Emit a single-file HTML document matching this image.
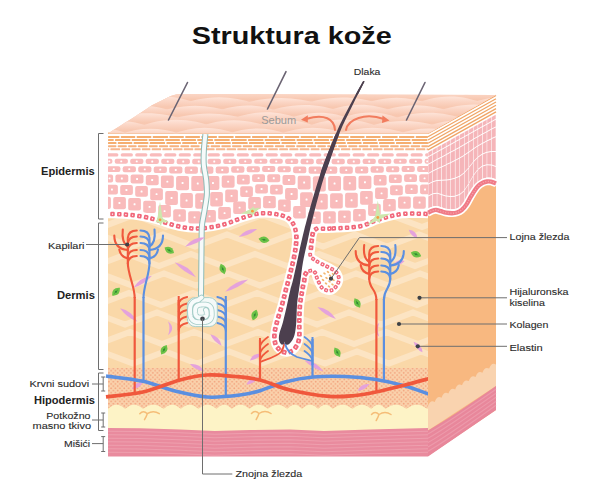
<!DOCTYPE html>
<html><head><meta charset="utf-8"><title>Struktura kože</title>
<style>html,body{margin:0;padding:0;background:#fff;}body{width:600px;height:502px;overflow:hidden;font-family:"Liberation Sans",sans-serif;}svg{display:block;}</style>
</head><body>
<svg width="600" height="502" viewBox="0 0 600 502"><defs><clipPath id="frontclip"><rect x="108" y="133" width="320" height="323"/></clipPath><pattern id="dots" width="4.4" height="4.4" patternUnits="userSpaceOnUse"><rect width="4.4" height="4.4" fill="#fad2ac"/><circle cx="1.1" cy="1.1" r="0.9" fill="#f3a47f"/><circle cx="3.3" cy="3.3" r="0.9" fill="#f3a47f"/></pattern><linearGradient id="dome" x1="0" y1="0" x2="0" y2="1"><stop offset="0" stop-color="#fee4d9"/><stop offset="0.45" stop-color="#fbd5c4"/><stop offset="1" stop-color="#f7c6ae"/></linearGradient><clipPath id="topclip"><path d="M108,133.5 L428,133.5 L496,95 L178,94 C175,95 173,95 170.7,96 C164,99.5 158,102 152,105.3 C145,110 138,114.5 130.7,119.3 C123,124 115,129 108,133.5 Z"/></clipPath></defs><rect x="108" y="133" width="320" height="323" fill="#fad8a8"/>
<g clip-path="url(#frontclip)"><polyline points="70.0,215.0 102.0,227.0 134.0,215.0 166.0,227.0 198.0,215.0 230.0,227.0 262.0,215.0 294.0,227.0 326.0,215.0 358.0,227.0 390.0,215.0 422.0,227.0 454.0,215.0" fill="none" stroke="#fce4c3" stroke-width="6" stroke-linejoin="miter"/>
<polyline points="35.0,234.5 67.0,246.5 99.0,234.5 131.0,246.5 163.0,234.5 195.0,246.5 227.0,234.5 259.0,246.5 291.0,234.5 323.0,246.5 355.0,234.5 387.0,246.5 419.0,234.5 451.0,246.5" fill="none" stroke="#fce4c3" stroke-width="6" stroke-linejoin="miter"/>
<polyline points="63.0,254.0 95.0,266.0 127.0,254.0 159.0,266.0 191.0,254.0 223.0,266.0 255.0,254.0 287.0,266.0 319.0,254.0 351.0,266.0 383.0,254.0 415.0,266.0 447.0,254.0" fill="none" stroke="#fce4c3" stroke-width="6" stroke-linejoin="miter"/>
<polyline points="36.0,273.5 68.0,285.5 100.0,273.5 132.0,285.5 164.0,273.5 196.0,285.5 228.0,273.5 260.0,285.5 292.0,273.5 324.0,285.5 356.0,273.5 388.0,285.5 420.0,273.5 452.0,285.5" fill="none" stroke="#fce4c3" stroke-width="6" stroke-linejoin="miter"/>
<polyline points="65.0,293.0 97.0,305.0 129.0,293.0 161.0,305.0 193.0,293.0 225.0,305.0 257.0,293.0 289.0,305.0 321.0,293.0 353.0,305.0 385.0,293.0 417.0,305.0 449.0,293.0" fill="none" stroke="#fce4c3" stroke-width="6" stroke-linejoin="miter"/>
<polyline points="29.0,312.5 61.0,324.5 93.0,312.5 125.0,324.5 157.0,312.5 189.0,324.5 221.0,312.5 253.0,324.5 285.0,312.5 317.0,324.5 349.0,312.5 381.0,324.5 413.0,312.5 445.0,324.5" fill="none" stroke="#fce4c3" stroke-width="6" stroke-linejoin="miter"/>
<polyline points="66.0,332.0 98.0,344.0 130.0,332.0 162.0,344.0 194.0,332.0 226.0,344.0 258.0,332.0 290.0,344.0 322.0,332.0 354.0,344.0 386.0,332.0 418.0,344.0 450.0,332.0" fill="none" stroke="#fce4c3" stroke-width="6" stroke-linejoin="miter"/>
<polyline points="37.0,351.5 69.0,363.5 101.0,351.5 133.0,363.5 165.0,351.5 197.0,363.5 229.0,351.5 261.0,363.5 293.0,351.5 325.0,363.5 357.0,351.5 389.0,363.5 421.0,351.5 453.0,363.5" fill="none" stroke="#fce4c3" stroke-width="6" stroke-linejoin="miter"/>
<polyline points="64.0,371.0 96.0,383.0 128.0,371.0 160.0,383.0 192.0,371.0 224.0,383.0 256.0,371.0 288.0,383.0 320.0,371.0 352.0,383.0 384.0,371.0 416.0,383.0 448.0,371.0" fill="none" stroke="#fce4c3" stroke-width="6" stroke-linejoin="miter"/></g>
<rect x="108" y="368" width="320" height="40" fill="url(#dots)"/>
<path d="M108,409 Q116.6,400.5 125.2,409.0 Q134.1,400.5 143.1,409.0 Q153.3,400.5 163.6,409.0 Q172.2,400.5 180.8,409.0 Q189.6,400.5 198.4,409.0 Q207.4,400.5 216.5,409.0 Q224.1,400.5 231.8,409.0 Q240.6,400.5 249.4,409.0 Q258.6,400.5 267.8,409.0 Q277.5,400.5 287.3,409.0 Q294.6,400.5 302.0,409.0 Q310.0,400.5 318.1,409.0 Q325.4,400.5 332.7,409.0 Q342.6,400.5 352.4,409.0 Q361.8,400.5 371.3,409.0 Q378.4,400.5 385.5,409.0 Q396.0,400.5 406.4,409.0 Q416.8,400.5 427.2,409.0 Q436.5,400.5 428.0,409.0 L428,432 L108,432 Z" fill="#fdf3c6"/>
<path d="M108,428 L140,428.3 L180,429.5 L214.7,431 L250,430 L290,429.5 L324,431 L370,429.5 L428,428 L428,456.5 L108,456.5 Z" fill="#e98b9e"/>
<polyline points="108.0,431.2 140.0,431.5 180.0,432.7 214.7,434.2 250.0,433.2 290.0,432.7 324.0,434.2 370.0,432.7 428.0,431.2" stroke="#ee9fae" stroke-width="1.1" fill="none"/><polyline points="108.0,434.7 140.0,435.0 180.0,436.2 214.7,437.7 250.0,436.7 290.0,436.2 324.0,437.7 370.0,436.2 428.0,434.7" stroke="#ee9fae" stroke-width="1.1" fill="none"/><polyline points="108.0,438.2 140.0,438.5 180.0,439.7 214.7,441.2 250.0,440.2 290.0,439.7 324.0,441.2 370.0,439.7 428.0,438.2" stroke="#ee9fae" stroke-width="1.1" fill="none"/><polyline points="108.0,441.7 140.0,442.0 180.0,443.2 214.7,444.7 250.0,443.7 290.0,443.2 324.0,444.7 370.0,443.2 428.0,441.7" stroke="#ee9fae" stroke-width="1.1" fill="none"/><polyline points="108.0,445.2 140.0,445.5 180.0,446.7 214.7,448.2 250.0,447.2 290.0,446.7 324.0,448.2 370.0,446.7 428.0,445.2" stroke="#ee9fae" stroke-width="1.1" fill="none"/><polyline points="108.0,448.7 140.0,449.0 180.0,450.2 214.7,451.7 250.0,450.7 290.0,450.2 324.0,451.7 370.0,450.2 428.0,448.7" stroke="#ee9fae" stroke-width="1.1" fill="none"/><polyline points="108.0,452.2 140.0,452.5 180.0,453.7 214.7,455.2 250.0,454.2 290.0,453.7 324.0,455.2 370.0,453.7 428.0,452.2" stroke="#ee9fae" stroke-width="1.1" fill="none"/>
<path d="M139.8,413.7 Q143.3,409.7 147.3,413.7 Q153.3,409.7 159.3,413.7 M147.3,413.7 Q146.3,416.7 144.5,419.7" stroke="#f5bd78" stroke-width="1.5" fill="none" stroke-linecap="round"/>
<path d="M251.5,413.5 Q255.0,409.5 259.0,413.5 Q265.0,409.5 271.0,413.5 M259.0,413.5 Q258.0,416.5 256.2,419.5" stroke="#f5bd78" stroke-width="1.5" fill="none" stroke-linecap="round"/>
<path d="M371.5,414.5 Q375.0,410.5 379.0,414.5 Q385.0,410.5 391.0,414.5 M379.0,414.5 Q378.0,417.5 376.2,420.5" stroke="#f5bd78" stroke-width="1.5" fill="none" stroke-linecap="round"/>
<path d="M108,133 L428,133 L428,217.0 L428.0,217.0 C423.7,217.0 410.2,216.1 402.0,217.0 C393.8,217.9 386.2,220.4 379.0,222.5 C371.8,224.6 367.0,228.0 359.0,229.5 C351.0,231.0 338.2,231.1 331.0,231.5 C323.8,231.9 320.3,232.4 316.0,232.0 C311.7,231.6 309.3,230.7 305.0,229.0 C300.7,227.3 295.0,224.0 290.0,222.0 C285.0,220.0 280.2,217.9 275.0,217.0 C269.8,216.1 264.5,215.8 259.0,216.5 C253.5,217.2 248.2,219.1 242.0,221.0 C235.8,222.9 229.2,226.2 222.0,228.0 C214.8,229.8 206.2,231.2 199.0,231.5 C191.8,231.8 186.0,230.9 179.0,229.5 C172.0,228.1 163.2,224.7 157.0,223.0 C150.8,221.3 147.3,220.4 142.0,219.5 C136.7,218.6 130.7,217.9 125.0,217.5 C119.3,217.1 110.8,217.1 108.0,217.0 Z" fill="#fff"/>
<rect x="108.0" y="135.9" width="11.5" height="2.0" rx="0.6" fill="#f5ae70"/>
<rect x="120.8" y="135.9" width="14.5" height="2.0" rx="0.6" fill="#f5ae70"/>
<rect x="136.6" y="135.9" width="14.8" height="2.0" rx="0.6" fill="#f5ae70"/>
<rect x="152.7" y="135.9" width="15.4" height="2.0" rx="0.6" fill="#f5ae70"/>
<rect x="169.4" y="135.9" width="14.5" height="2.0" rx="0.6" fill="#f5ae70"/>
<rect x="185.2" y="135.9" width="14.8" height="2.0" rx="0.6" fill="#f5ae70"/>
<rect x="201.3" y="135.9" width="15.7" height="2.0" rx="0.6" fill="#f5ae70"/>
<rect x="218.3" y="135.9" width="15.4" height="2.0" rx="0.6" fill="#f5ae70"/>
<rect x="235.0" y="135.9" width="15.7" height="2.0" rx="0.6" fill="#f5ae70"/>
<rect x="252.0" y="135.9" width="15.4" height="2.0" rx="0.6" fill="#f5ae70"/>
<rect x="268.7" y="135.9" width="14.5" height="2.0" rx="0.6" fill="#f5ae70"/>
<rect x="284.5" y="135.9" width="14.8" height="2.0" rx="0.6" fill="#f5ae70"/>
<rect x="300.6" y="135.9" width="15.7" height="2.0" rx="0.6" fill="#f5ae70"/>
<rect x="317.6" y="135.9" width="15.4" height="2.0" rx="0.6" fill="#f5ae70"/>
<rect x="334.3" y="135.9" width="14.5" height="2.0" rx="0.6" fill="#f5ae70"/>
<rect x="350.1" y="135.9" width="14.5" height="2.0" rx="0.6" fill="#f5ae70"/>
<rect x="365.9" y="135.9" width="14.8" height="2.0" rx="0.6" fill="#f5ae70"/>
<rect x="382.0" y="135.9" width="15.7" height="2.0" rx="0.6" fill="#f5ae70"/>
<rect x="399.0" y="135.9" width="15.4" height="2.0" rx="0.6" fill="#f5ae70"/>
<rect x="415.7" y="135.9" width="12.3" height="2.0" rx="0.6" fill="#f5ae70"/>
<rect x="108.0" y="139.0" width="5.7" height="2.0" rx="0.6" fill="#f5ae70"/>
<rect x="115.0" y="139.0" width="15.4" height="2.0" rx="0.6" fill="#f5ae70"/>
<rect x="131.7" y="139.0" width="15.7" height="2.0" rx="0.6" fill="#f5ae70"/>
<rect x="148.7" y="139.0" width="15.4" height="2.0" rx="0.6" fill="#f5ae70"/>
<rect x="165.4" y="139.0" width="14.5" height="2.0" rx="0.6" fill="#f5ae70"/>
<rect x="181.2" y="139.0" width="14.8" height="2.0" rx="0.6" fill="#f5ae70"/>
<rect x="197.3" y="139.0" width="15.7" height="2.0" rx="0.6" fill="#f5ae70"/>
<rect x="214.3" y="139.0" width="15.4" height="2.0" rx="0.6" fill="#f5ae70"/>
<rect x="231.0" y="139.0" width="15.7" height="2.0" rx="0.6" fill="#f5ae70"/>
<rect x="248.0" y="139.0" width="15.4" height="2.0" rx="0.6" fill="#f5ae70"/>
<rect x="264.7" y="139.0" width="14.5" height="2.0" rx="0.6" fill="#f5ae70"/>
<rect x="280.5" y="139.0" width="14.8" height="2.0" rx="0.6" fill="#f5ae70"/>
<rect x="296.6" y="139.0" width="15.7" height="2.0" rx="0.6" fill="#f5ae70"/>
<rect x="313.6" y="139.0" width="15.4" height="2.0" rx="0.6" fill="#f5ae70"/>
<rect x="330.3" y="139.0" width="14.5" height="2.0" rx="0.6" fill="#f5ae70"/>
<rect x="346.1" y="139.0" width="14.5" height="2.0" rx="0.6" fill="#f5ae70"/>
<rect x="361.9" y="139.0" width="14.8" height="2.0" rx="0.6" fill="#f5ae70"/>
<rect x="378.0" y="139.0" width="15.7" height="2.0" rx="0.6" fill="#f5ae70"/>
<rect x="395.0" y="139.0" width="15.4" height="2.0" rx="0.6" fill="#f5ae70"/>
<rect x="411.7" y="139.0" width="15.7" height="2.0" rx="0.6" fill="#f5ae70"/>
<rect x="108.0" y="142.1" width="8.5" height="2.0" rx="0.6" fill="#f5ae70"/>
<rect x="117.8" y="142.1" width="14.5" height="2.0" rx="0.6" fill="#f5ae70"/>
<rect x="133.6" y="142.1" width="14.8" height="2.0" rx="0.6" fill="#f5ae70"/>
<rect x="149.7" y="142.1" width="15.4" height="2.0" rx="0.6" fill="#f5ae70"/>
<rect x="166.4" y="142.1" width="14.5" height="2.0" rx="0.6" fill="#f5ae70"/>
<rect x="182.2" y="142.1" width="14.8" height="2.0" rx="0.6" fill="#f5ae70"/>
<rect x="198.3" y="142.1" width="15.7" height="2.0" rx="0.6" fill="#f5ae70"/>
<rect x="215.3" y="142.1" width="15.4" height="2.0" rx="0.6" fill="#f5ae70"/>
<rect x="232.0" y="142.1" width="15.7" height="2.0" rx="0.6" fill="#f5ae70"/>
<rect x="249.0" y="142.1" width="15.4" height="2.0" rx="0.6" fill="#f5ae70"/>
<rect x="265.7" y="142.1" width="14.5" height="2.0" rx="0.6" fill="#f5ae70"/>
<rect x="281.5" y="142.1" width="14.8" height="2.0" rx="0.6" fill="#f5ae70"/>
<rect x="297.6" y="142.1" width="15.7" height="2.0" rx="0.6" fill="#f5ae70"/>
<rect x="314.6" y="142.1" width="15.4" height="2.0" rx="0.6" fill="#f5ae70"/>
<rect x="331.3" y="142.1" width="14.5" height="2.0" rx="0.6" fill="#f5ae70"/>
<rect x="347.1" y="142.1" width="14.5" height="2.0" rx="0.6" fill="#f5ae70"/>
<rect x="362.9" y="142.1" width="14.8" height="2.0" rx="0.6" fill="#f5ae70"/>
<rect x="379.0" y="142.1" width="15.7" height="2.0" rx="0.6" fill="#f5ae70"/>
<rect x="396.0" y="142.1" width="15.4" height="2.0" rx="0.6" fill="#f5ae70"/>
<rect x="412.7" y="142.1" width="15.3" height="2.0" rx="0.6" fill="#f5ae70"/>
<rect x="108.0" y="145.2" width="8.4" height="2.0" rx="0.6" fill="#f6b17e"/>
<rect x="117.7" y="145.2" width="9.1" height="2.0" rx="0.6" fill="#f6b17e"/>
<rect x="128.1" y="145.2" width="8.5" height="2.0" rx="0.6" fill="#f6b17e"/>
<rect x="137.9" y="145.2" width="9.7" height="2.0" rx="0.6" fill="#f6b17e"/>
<rect x="148.9" y="145.2" width="8.8" height="2.0" rx="0.6" fill="#f6b17e"/>
<rect x="159.0" y="145.2" width="9.1" height="2.0" rx="0.6" fill="#f6b17e"/>
<rect x="169.4" y="145.2" width="9.7" height="2.0" rx="0.6" fill="#f6b17e"/>
<rect x="180.4" y="145.2" width="8.8" height="2.0" rx="0.6" fill="#f6b17e"/>
<rect x="190.5" y="145.2" width="9.1" height="2.0" rx="0.6" fill="#f6b17e"/>
<rect x="200.9" y="145.2" width="8.5" height="2.0" rx="0.6" fill="#f6b17e"/>
<rect x="210.7" y="145.2" width="9.4" height="2.0" rx="0.6" fill="#f6b17e"/>
<rect x="221.4" y="145.2" width="9.4" height="2.0" rx="0.6" fill="#f6b17e"/>
<rect x="232.1" y="145.2" width="9.4" height="2.0" rx="0.6" fill="#f6b17e"/>
<rect x="242.8" y="145.2" width="9.4" height="2.0" rx="0.6" fill="#f6b17e"/>
<rect x="253.5" y="145.2" width="9.4" height="2.0" rx="0.6" fill="#f6b17e"/>
<rect x="264.2" y="145.2" width="9.4" height="2.0" rx="0.6" fill="#f6b17e"/>
<rect x="274.9" y="145.2" width="9.4" height="2.0" rx="0.6" fill="#f6b17e"/>
<rect x="285.6" y="145.2" width="9.4" height="2.0" rx="0.6" fill="#f6b17e"/>
<rect x="296.3" y="145.2" width="9.4" height="2.0" rx="0.6" fill="#f6b17e"/>
<rect x="307.0" y="145.2" width="9.1" height="2.0" rx="0.6" fill="#f6b17e"/>
<rect x="317.4" y="145.2" width="8.5" height="2.0" rx="0.6" fill="#f6b17e"/>
<rect x="327.2" y="145.2" width="9.7" height="2.0" rx="0.6" fill="#f6b17e"/>
<rect x="338.2" y="145.2" width="8.8" height="2.0" rx="0.6" fill="#f6b17e"/>
<rect x="348.3" y="145.2" width="9.1" height="2.0" rx="0.6" fill="#f6b17e"/>
<rect x="358.7" y="145.2" width="9.7" height="2.0" rx="0.6" fill="#f6b17e"/>
<rect x="369.7" y="145.2" width="8.8" height="2.0" rx="0.6" fill="#f6b17e"/>
<rect x="379.8" y="145.2" width="9.1" height="2.0" rx="0.6" fill="#f6b17e"/>
<rect x="390.2" y="145.2" width="8.5" height="2.0" rx="0.6" fill="#f6b17e"/>
<rect x="400.0" y="145.2" width="9.4" height="2.0" rx="0.6" fill="#f6b17e"/>
<rect x="410.7" y="145.2" width="9.4" height="2.0" rx="0.6" fill="#f6b17e"/>
<rect x="421.4" y="145.2" width="6.6" height="2.0" rx="0.6" fill="#f6b17e"/>
<rect x="108.0" y="148.3" width="1.1" height="2.0" rx="0.6" fill="#f7b78e"/>
<rect x="110.4" y="148.3" width="9.7" height="2.0" rx="0.6" fill="#f7b78e"/>
<rect x="121.4" y="148.3" width="8.8" height="2.0" rx="0.6" fill="#f7b78e"/>
<rect x="131.5" y="148.3" width="9.1" height="2.0" rx="0.6" fill="#f7b78e"/>
<rect x="141.9" y="148.3" width="8.5" height="2.0" rx="0.6" fill="#f7b78e"/>
<rect x="151.7" y="148.3" width="9.4" height="2.0" rx="0.6" fill="#f7b78e"/>
<rect x="162.4" y="148.3" width="9.4" height="2.0" rx="0.6" fill="#f7b78e"/>
<rect x="173.1" y="148.3" width="9.4" height="2.0" rx="0.6" fill="#f7b78e"/>
<rect x="183.8" y="148.3" width="9.4" height="2.0" rx="0.6" fill="#f7b78e"/>
<rect x="194.5" y="148.3" width="9.4" height="2.0" rx="0.6" fill="#f7b78e"/>
<rect x="205.2" y="148.3" width="9.4" height="2.0" rx="0.6" fill="#f7b78e"/>
<rect x="215.9" y="148.3" width="9.4" height="2.0" rx="0.6" fill="#f7b78e"/>
<rect x="226.6" y="148.3" width="9.4" height="2.0" rx="0.6" fill="#f7b78e"/>
<rect x="237.3" y="148.3" width="9.4" height="2.0" rx="0.6" fill="#f7b78e"/>
<rect x="248.0" y="148.3" width="9.1" height="2.0" rx="0.6" fill="#f7b78e"/>
<rect x="258.4" y="148.3" width="8.5" height="2.0" rx="0.6" fill="#f7b78e"/>
<rect x="268.2" y="148.3" width="9.7" height="2.0" rx="0.6" fill="#f7b78e"/>
<rect x="279.2" y="148.3" width="8.8" height="2.0" rx="0.6" fill="#f7b78e"/>
<rect x="289.3" y="148.3" width="9.1" height="2.0" rx="0.6" fill="#f7b78e"/>
<rect x="299.7" y="148.3" width="9.7" height="2.0" rx="0.6" fill="#f7b78e"/>
<rect x="310.7" y="148.3" width="8.8" height="2.0" rx="0.6" fill="#f7b78e"/>
<rect x="320.8" y="148.3" width="9.1" height="2.0" rx="0.6" fill="#f7b78e"/>
<rect x="331.2" y="148.3" width="8.5" height="2.0" rx="0.6" fill="#f7b78e"/>
<rect x="341.0" y="148.3" width="9.4" height="2.0" rx="0.6" fill="#f7b78e"/>
<rect x="351.7" y="148.3" width="9.4" height="2.0" rx="0.6" fill="#f7b78e"/>
<rect x="362.4" y="148.3" width="9.4" height="2.0" rx="0.6" fill="#f7b78e"/>
<rect x="373.1" y="148.3" width="9.4" height="2.0" rx="0.6" fill="#f7b78e"/>
<rect x="383.8" y="148.3" width="9.4" height="2.0" rx="0.6" fill="#f7b78e"/>
<rect x="394.5" y="148.3" width="9.4" height="2.0" rx="0.6" fill="#f7b78e"/>
<rect x="405.2" y="148.3" width="9.4" height="2.0" rx="0.6" fill="#f7b78e"/>
<rect x="415.9" y="148.3" width="9.4" height="2.0" rx="0.6" fill="#f7b78e"/>
<rect x="426.6" y="148.3" width="1.4" height="2.0" rx="0.6" fill="#f7b78e"/>
<rect x="108" y="132.6" width="320" height="1.3" fill="#e9a052"/>
<g clip-path="url(#frontclip)"><rect x="106.2" y="153.2" width="12.2" height="3.4" rx="1.6" fill="#f9bbbb"/>
<rect x="120.7" y="153.2" width="12.2" height="3.4" rx="1.6" fill="#f9bbbb"/>
<rect x="135.2" y="153.2" width="12.2" height="3.4" rx="1.6" fill="#f9bbbb"/>
<rect x="149.7" y="153.2" width="12.2" height="3.4" rx="1.6" fill="#f9bbbb"/>
<rect x="164.2" y="153.2" width="12.2" height="3.4" rx="1.6" fill="#f9bbbb"/>
<rect x="178.7" y="153.2" width="12.2" height="3.4" rx="1.6" fill="#f9bbbb"/>
<rect x="193.2" y="153.2" width="12.2" height="3.4" rx="1.6" fill="#f9bbbb"/>
<rect x="207.7" y="153.2" width="12.2" height="3.4" rx="1.6" fill="#f9bbbb"/>
<rect x="222.2" y="153.2" width="12.2" height="3.4" rx="1.6" fill="#f9bbbb"/>
<rect x="236.7" y="153.2" width="12.2" height="3.4" rx="1.6" fill="#f9bbbb"/>
<rect x="251.2" y="153.2" width="12.2" height="3.4" rx="1.6" fill="#f9bbbb"/>
<rect x="265.6" y="153.2" width="12.2" height="3.4" rx="1.6" fill="#f9bbbb"/>
<rect x="280.1" y="153.2" width="12.2" height="3.4" rx="1.6" fill="#f9bbbb"/>
<rect x="294.6" y="153.2" width="12.2" height="3.4" rx="1.6" fill="#f9bbbb"/>
<rect x="309.1" y="153.2" width="12.2" height="3.4" rx="1.6" fill="#f9bbbb"/>
<rect x="323.6" y="153.2" width="12.2" height="3.4" rx="1.6" fill="#f9bbbb"/>
<rect x="338.1" y="153.2" width="12.2" height="3.4" rx="1.6" fill="#f9bbbb"/>
<rect x="352.6" y="153.2" width="12.2" height="3.4" rx="1.6" fill="#f9bbbb"/>
<rect x="367.1" y="153.2" width="12.2" height="3.4" rx="1.6" fill="#f9bbbb"/>
<rect x="381.6" y="153.2" width="12.2" height="3.4" rx="1.6" fill="#f9bbbb"/>
<rect x="396.1" y="153.2" width="12.2" height="3.4" rx="1.6" fill="#f9bbbb"/>
<rect x="410.6" y="153.2" width="12.2" height="3.4" rx="1.6" fill="#f9bbbb"/>
<rect x="425.1" y="153.2" width="4.7" height="3.4" rx="1.6" fill="#f9bbbb"/>
<rect x="106.2" y="158.8" width="6.2" height="5.0" rx="2.0" fill="#f9bbbb"/>
<rect x="108.3" y="160.4" width="1.9" height="1.9" rx="0.5" fill="#fff"/>
<rect x="114.7" y="158.8" width="13.2" height="5.0" rx="2.0" fill="#f9bbbb"/>
<rect x="120.3" y="160.4" width="1.9" height="1.9" rx="0.5" fill="#fff"/>
<rect x="130.2" y="158.8" width="13.2" height="5.1" rx="2.0" fill="#f9bbbb"/>
<rect x="135.8" y="160.4" width="1.9" height="1.9" rx="0.5" fill="#fff"/>
<rect x="145.7" y="158.8" width="13.2" height="5.1" rx="2.0" fill="#f9bbbb"/>
<rect x="151.3" y="160.5" width="1.9" height="1.9" rx="0.5" fill="#fff"/>
<rect x="161.2" y="158.8" width="13.2" height="5.3" rx="2.0" fill="#f9bbbb"/>
<rect x="166.8" y="160.5" width="1.9" height="1.9" rx="0.5" fill="#fff"/>
<rect x="176.7" y="158.8" width="13.2" height="5.4" rx="2.0" fill="#f9bbbb"/>
<rect x="182.3" y="160.6" width="1.9" height="1.9" rx="0.5" fill="#fff"/>
<rect x="192.2" y="158.8" width="13.2" height="5.4" rx="2.0" fill="#f9bbbb"/>
<rect x="197.8" y="160.6" width="1.9" height="1.9" rx="0.5" fill="#fff"/>
<rect x="207.7" y="158.8" width="13.2" height="5.4" rx="2.0" fill="#f9bbbb"/>
<rect x="213.3" y="160.6" width="1.9" height="1.9" rx="0.5" fill="#fff"/>
<rect x="223.2" y="158.8" width="13.2" height="5.3" rx="2.0" fill="#f9bbbb"/>
<rect x="228.8" y="160.5" width="1.9" height="1.9" rx="0.5" fill="#fff"/>
<rect x="238.7" y="158.8" width="13.2" height="5.1" rx="2.0" fill="#f9bbbb"/>
<rect x="244.3" y="160.4" width="1.9" height="1.9" rx="0.5" fill="#fff"/>
<rect x="254.2" y="158.8" width="13.2" height="5.0" rx="2.0" fill="#f9bbbb"/>
<rect x="259.8" y="160.4" width="1.9" height="1.9" rx="0.5" fill="#fff"/>
<rect x="269.6" y="158.8" width="13.2" height="5.0" rx="2.0" fill="#f9bbbb"/>
<rect x="275.3" y="160.4" width="1.9" height="1.9" rx="0.5" fill="#fff"/>
<rect x="285.1" y="158.8" width="13.2" height="5.2" rx="2.0" fill="#f9bbbb"/>
<rect x="290.8" y="160.5" width="1.9" height="1.9" rx="0.5" fill="#fff"/>
<rect x="300.6" y="158.8" width="13.2" height="5.4" rx="2.0" fill="#f9bbbb"/>
<rect x="306.3" y="160.6" width="1.9" height="1.9" rx="0.5" fill="#fff"/>
<rect x="316.1" y="158.8" width="13.2" height="5.5" rx="2.0" fill="#f9bbbb"/>
<rect x="321.8" y="160.6" width="1.9" height="1.9" rx="0.5" fill="#fff"/>
<rect x="331.6" y="158.8" width="13.2" height="5.4" rx="2.0" fill="#f9bbbb"/>
<rect x="337.3" y="160.6" width="1.9" height="1.9" rx="0.5" fill="#fff"/>
<rect x="347.1" y="158.8" width="13.2" height="5.4" rx="2.0" fill="#f9bbbb"/>
<rect x="352.8" y="160.6" width="1.9" height="1.9" rx="0.5" fill="#fff"/>
<rect x="362.6" y="158.8" width="13.2" height="5.3" rx="2.0" fill="#f9bbbb"/>
<rect x="368.3" y="160.5" width="1.9" height="1.9" rx="0.5" fill="#fff"/>
<rect x="378.1" y="158.8" width="13.2" height="5.1" rx="2.0" fill="#f9bbbb"/>
<rect x="383.8" y="160.5" width="1.9" height="1.9" rx="0.5" fill="#fff"/>
<rect x="393.6" y="158.8" width="13.2" height="5.0" rx="2.0" fill="#f9bbbb"/>
<rect x="399.3" y="160.4" width="1.9" height="1.9" rx="0.5" fill="#fff"/>
<rect x="409.1" y="158.8" width="13.2" height="5.0" rx="2.0" fill="#f9bbbb"/>
<rect x="414.8" y="160.4" width="1.9" height="1.9" rx="0.5" fill="#fff"/>
<rect x="424.6" y="158.8" width="5.2" height="5.0" rx="2.0" fill="#f9bbbb"/>
<rect x="426.3" y="160.4" width="1.9" height="1.9" rx="0.5" fill="#fff"/>
<rect x="107.2" y="166.2" width="13.2" height="5.9" rx="2.0" fill="#f9bbbb"/>
<rect x="112.8" y="168.2" width="1.9" height="1.9" rx="0.5" fill="#fff"/>
<rect x="122.7" y="166.2" width="13.2" height="6.0" rx="2.0" fill="#f9bbbb"/>
<rect x="128.3" y="168.2" width="1.9" height="1.9" rx="0.5" fill="#fff"/>
<rect x="138.2" y="166.2" width="13.2" height="6.2" rx="2.0" fill="#f9bbbb"/>
<rect x="143.8" y="168.4" width="1.9" height="1.9" rx="0.5" fill="#fff"/>
<rect x="153.7" y="166.4" width="13.2" height="6.5" rx="2.0" fill="#f9bbbb"/>
<rect x="159.3" y="168.7" width="1.9" height="1.9" rx="0.5" fill="#fff"/>
<rect x="169.2" y="166.5" width="13.2" height="7.0" rx="2.0" fill="#f9bbbb"/>
<rect x="174.8" y="169.0" width="1.9" height="1.9" rx="0.5" fill="#fff"/>
<rect x="184.7" y="166.6" width="13.2" height="7.2" rx="2.0" fill="#f9bbbb"/>
<rect x="190.3" y="169.2" width="1.9" height="1.9" rx="0.5" fill="#fff"/>
<rect x="200.2" y="166.6" width="13.2" height="7.1" rx="2.0" fill="#f9bbbb"/>
<rect x="205.8" y="169.2" width="1.9" height="1.9" rx="0.5" fill="#fff"/>
<rect x="215.7" y="166.5" width="13.2" height="6.9" rx="2.0" fill="#f9bbbb"/>
<rect x="221.3" y="169.0" width="1.9" height="1.9" rx="0.5" fill="#fff"/>
<rect x="231.2" y="166.3" width="13.2" height="6.4" rx="2.0" fill="#f9bbbb"/>
<rect x="236.8" y="168.6" width="1.9" height="1.9" rx="0.5" fill="#fff"/>
<rect x="246.7" y="166.2" width="13.2" height="6.0" rx="2.0" fill="#f9bbbb"/>
<rect x="252.3" y="168.2" width="1.9" height="1.9" rx="0.5" fill="#fff"/>
<rect x="262.1" y="166.1" width="13.2" height="5.8" rx="2.0" fill="#f9bbbb"/>
<rect x="267.8" y="168.1" width="1.9" height="1.9" rx="0.5" fill="#fff"/>
<rect x="277.6" y="166.2" width="13.2" height="6.1" rx="2.0" fill="#f9bbbb"/>
<rect x="283.3" y="168.4" width="1.9" height="1.9" rx="0.5" fill="#fff"/>
<rect x="293.1" y="166.4" width="13.2" height="6.8" rx="2.0" fill="#f9bbbb"/>
<rect x="298.8" y="168.9" width="1.9" height="1.9" rx="0.5" fill="#fff"/>
<rect x="308.6" y="166.6" width="13.2" height="7.2" rx="2.0" fill="#f9bbbb"/>
<rect x="314.3" y="169.3" width="1.9" height="1.9" rx="0.5" fill="#fff"/>
<rect x="324.1" y="166.6" width="13.2" height="7.2" rx="2.0" fill="#f9bbbb"/>
<rect x="329.8" y="169.2" width="1.9" height="1.9" rx="0.5" fill="#fff"/>
<rect x="339.6" y="166.6" width="13.2" height="7.1" rx="2.0" fill="#f9bbbb"/>
<rect x="345.3" y="169.2" width="1.9" height="1.9" rx="0.5" fill="#fff"/>
<rect x="355.1" y="166.5" width="13.2" height="7.0" rx="2.0" fill="#f9bbbb"/>
<rect x="360.8" y="169.0" width="1.9" height="1.9" rx="0.5" fill="#fff"/>
<rect x="370.6" y="166.3" width="13.2" height="6.4" rx="2.0" fill="#f9bbbb"/>
<rect x="376.3" y="168.6" width="1.9" height="1.9" rx="0.5" fill="#fff"/>
<rect x="386.1" y="166.2" width="13.2" height="6.0" rx="2.0" fill="#f9bbbb"/>
<rect x="391.8" y="168.3" width="1.9" height="1.9" rx="0.5" fill="#fff"/>
<rect x="401.6" y="166.1" width="13.2" height="5.9" rx="2.0" fill="#f9bbbb"/>
<rect x="407.3" y="168.1" width="1.9" height="1.9" rx="0.5" fill="#fff"/>
<rect x="417.1" y="166.1" width="12.7" height="5.9" rx="2.0" fill="#f9bbbb"/>
<rect x="422.6" y="168.1" width="1.9" height="1.9" rx="0.5" fill="#fff"/>
<rect x="106.2" y="174.4" width="6.9" height="8.0" rx="2.0" fill="#f9bbbb"/>
<rect x="108.6" y="177.4" width="1.9" height="1.9" rx="0.5" fill="#fff"/>
<rect x="115.4" y="174.4" width="12.9" height="8.2" rx="2.0" fill="#f9bbbb"/>
<rect x="120.9" y="177.5" width="1.9" height="1.9" rx="0.5" fill="#fff"/>
<rect x="130.6" y="174.6" width="12.9" height="8.8" rx="2.0" fill="#f9bbbb"/>
<rect x="136.1" y="178.0" width="1.9" height="1.9" rx="0.5" fill="#fff"/>
<rect x="145.8" y="174.9" width="12.9" height="10.3" rx="2.0" fill="#f9bbbb"/>
<rect x="151.2" y="179.1" width="1.9" height="1.9" rx="0.5" fill="#fff"/>
<rect x="160.9" y="175.5" width="12.9" height="12.4" rx="2.0" fill="#f9bbbb"/>
<rect x="166.4" y="180.7" width="1.9" height="1.9" rx="0.5" fill="#fff"/>
<rect x="176.1" y="175.9" width="12.9" height="14.3" rx="2.0" fill="#f9bbbb"/>
<rect x="181.6" y="182.1" width="1.9" height="1.9" rx="0.5" fill="#fff"/>
<rect x="191.3" y="176.1" width="12.9" height="15.0" rx="2.0" fill="#f9bbbb"/>
<rect x="196.8" y="182.6" width="1.9" height="1.9" rx="0.5" fill="#fff"/>
<rect x="206.5" y="175.9" width="12.9" height="14.2" rx="2.0" fill="#f9bbbb"/>
<rect x="212.0" y="182.0" width="1.9" height="1.9" rx="0.5" fill="#fff"/>
<rect x="221.7" y="175.4" width="12.9" height="12.4" rx="2.0" fill="#f9bbbb"/>
<rect x="227.2" y="180.7" width="1.9" height="1.9" rx="0.5" fill="#fff"/>
<rect x="236.9" y="174.8" width="12.9" height="9.7" rx="2.0" fill="#f9bbbb"/>
<rect x="242.4" y="178.7" width="1.9" height="1.9" rx="0.5" fill="#fff"/>
<rect x="252.1" y="174.3" width="12.9" height="7.8" rx="2.0" fill="#f9bbbb"/>
<rect x="257.6" y="177.2" width="1.9" height="1.9" rx="0.5" fill="#fff"/>
<rect x="267.3" y="174.3" width="12.9" height="7.9" rx="2.0" fill="#f9bbbb"/>
<rect x="272.8" y="177.3" width="1.9" height="1.9" rx="0.5" fill="#fff"/>
<rect x="282.5" y="174.9" width="12.9" height="10.2" rx="2.0" fill="#f9bbbb"/>
<rect x="288.0" y="179.1" width="1.9" height="1.9" rx="0.5" fill="#fff"/>
<rect x="297.7" y="175.8" width="12.9" height="13.6" rx="2.0" fill="#f9bbbb"/>
<rect x="303.2" y="181.6" width="1.9" height="1.9" rx="0.5" fill="#fff"/>
<rect x="312.9" y="176.2" width="12.9" height="15.3" rx="2.0" fill="#f9bbbb"/>
<rect x="318.4" y="182.9" width="1.9" height="1.9" rx="0.5" fill="#fff"/>
<rect x="328.1" y="176.1" width="12.9" height="14.9" rx="2.0" fill="#f9bbbb"/>
<rect x="333.6" y="182.6" width="1.9" height="1.9" rx="0.5" fill="#fff"/>
<rect x="343.3" y="176.0" width="12.9" height="14.5" rx="2.0" fill="#f9bbbb"/>
<rect x="348.8" y="182.3" width="1.9" height="1.9" rx="0.5" fill="#fff"/>
<rect x="358.5" y="175.7" width="12.9" height="13.2" rx="2.0" fill="#f9bbbb"/>
<rect x="364.0" y="181.3" width="1.9" height="1.9" rx="0.5" fill="#fff"/>
<rect x="373.7" y="175.0" width="12.9" height="10.5" rx="2.0" fill="#f9bbbb"/>
<rect x="379.2" y="179.3" width="1.9" height="1.9" rx="0.5" fill="#fff"/>
<rect x="388.9" y="174.5" width="12.9" height="8.5" rx="2.0" fill="#f9bbbb"/>
<rect x="394.4" y="177.8" width="1.9" height="1.9" rx="0.5" fill="#fff"/>
<rect x="404.1" y="174.3" width="12.9" height="7.8" rx="2.0" fill="#f9bbbb"/>
<rect x="409.6" y="177.3" width="1.9" height="1.9" rx="0.5" fill="#fff"/>
<rect x="419.3" y="174.3" width="10.5" height="8.0" rx="2.0" fill="#f9bbbb"/>
<rect x="423.6" y="177.4" width="1.9" height="1.9" rx="0.5" fill="#fff"/>
<rect x="106.2" y="184.7" width="11.7" height="9.7" rx="2.0" fill="#f9bbbb"/>
<rect x="111.0" y="188.6" width="1.9" height="1.9" rx="0.5" fill="#fff"/>
<rect x="120.2" y="185.0" width="12.7" height="9.9" rx="2.0" fill="#f9bbbb"/>
<rect x="125.5" y="189.0" width="1.9" height="1.9" rx="0.5" fill="#fff"/>
<rect x="135.2" y="186.1" width="12.7" height="10.7" rx="2.0" fill="#f9bbbb"/>
<rect x="140.6" y="190.5" width="1.9" height="1.9" rx="0.5" fill="#fff"/>
<rect x="150.2" y="188.2" width="12.7" height="12.0" rx="2.0" fill="#f9bbbb"/>
<rect x="155.6" y="193.2" width="1.9" height="1.9" rx="0.5" fill="#fff"/>
<rect x="165.2" y="191.0" width="12.7" height="13.9" rx="2.0" fill="#f9bbbb"/>
<rect x="170.6" y="197.0" width="1.9" height="1.9" rx="0.5" fill="#fff"/>
<rect x="180.2" y="192.9" width="12.7" height="15.2" rx="2.0" fill="#f9bbbb"/>
<rect x="185.6" y="199.6" width="1.9" height="1.9" rx="0.5" fill="#fff"/>
<rect x="195.2" y="193.3" width="12.7" height="15.4" rx="2.0" fill="#f9bbbb"/>
<rect x="200.6" y="200.0" width="1.9" height="1.9" rx="0.5" fill="#fff"/>
<rect x="210.2" y="192.0" width="12.7" height="14.6" rx="2.0" fill="#f9bbbb"/>
<rect x="215.6" y="198.3" width="1.9" height="1.9" rx="0.5" fill="#fff"/>
<rect x="225.2" y="189.4" width="12.7" height="12.9" rx="2.0" fill="#f9bbbb"/>
<rect x="230.6" y="194.9" width="1.9" height="1.9" rx="0.5" fill="#fff"/>
<rect x="240.2" y="186.2" width="12.7" height="10.7" rx="2.0" fill="#f9bbbb"/>
<rect x="245.6" y="190.6" width="1.9" height="1.9" rx="0.5" fill="#fff"/>
<rect x="255.2" y="184.2" width="12.7" height="9.4" rx="2.0" fill="#f9bbbb"/>
<rect x="260.6" y="188.0" width="1.9" height="1.9" rx="0.5" fill="#fff"/>
<rect x="270.1" y="184.8" width="12.7" height="9.8" rx="2.0" fill="#f9bbbb"/>
<rect x="275.6" y="188.8" width="1.9" height="1.9" rx="0.5" fill="#fff"/>
<rect x="285.1" y="188.0" width="12.7" height="12.0" rx="2.0" fill="#f9bbbb"/>
<rect x="290.6" y="193.1" width="1.9" height="1.9" rx="0.5" fill="#fff"/>
<rect x="300.1" y="192.2" width="12.7" height="14.7" rx="2.0" fill="#f9bbbb"/>
<rect x="305.6" y="198.6" width="1.9" height="1.9" rx="0.5" fill="#fff"/>
<rect x="315.1" y="193.7" width="12.7" height="15.7" rx="2.0" fill="#f9bbbb"/>
<rect x="320.6" y="200.6" width="1.9" height="1.9" rx="0.5" fill="#fff"/>
<rect x="330.1" y="193.2" width="12.7" height="15.4" rx="2.0" fill="#f9bbbb"/>
<rect x="335.6" y="200.0" width="1.9" height="1.9" rx="0.5" fill="#fff"/>
<rect x="345.1" y="192.7" width="12.7" height="15.1" rx="2.0" fill="#f9bbbb"/>
<rect x="350.6" y="199.3" width="1.9" height="1.9" rx="0.5" fill="#fff"/>
<rect x="360.1" y="190.9" width="12.7" height="13.8" rx="2.0" fill="#f9bbbb"/>
<rect x="365.6" y="196.8" width="1.9" height="1.9" rx="0.5" fill="#fff"/>
<rect x="375.1" y="187.5" width="12.7" height="11.6" rx="2.0" fill="#f9bbbb"/>
<rect x="380.6" y="192.4" width="1.9" height="1.9" rx="0.5" fill="#fff"/>
<rect x="390.1" y="185.2" width="12.7" height="10.0" rx="2.0" fill="#f9bbbb"/>
<rect x="395.6" y="189.2" width="1.9" height="1.9" rx="0.5" fill="#fff"/>
<rect x="405.1" y="184.4" width="12.7" height="9.5" rx="2.0" fill="#f9bbbb"/>
<rect x="410.6" y="188.2" width="1.9" height="1.9" rx="0.5" fill="#fff"/>
<rect x="420.1" y="184.6" width="9.7" height="9.7" rx="2.0" fill="#f9bbbb"/>
<rect x="424.1" y="188.5" width="1.9" height="1.9" rx="0.5" fill="#fff"/>
<rect x="106.2" y="196.7" width="4.7" height="12.4" rx="2.0" fill="#f9bbbb"/>
<rect x="113.2" y="196.9" width="12.7" height="12.4" rx="2.0" fill="#f9bbbb"/>
<rect x="118.5" y="202.1" width="1.9" height="1.9" rx="0.5" fill="#fff"/>
<rect x="128.2" y="198.1" width="12.7" height="12.4" rx="2.0" fill="#f9bbbb"/>
<rect x="133.6" y="203.3" width="1.9" height="1.9" rx="0.5" fill="#fff"/>
<rect x="143.2" y="200.7" width="12.7" height="12.4" rx="2.0" fill="#f9bbbb"/>
<rect x="148.6" y="205.9" width="1.9" height="1.9" rx="0.5" fill="#fff"/>
<rect x="158.2" y="205.0" width="12.7" height="12.4" rx="2.0" fill="#f9bbbb"/>
<rect x="163.6" y="210.2" width="1.9" height="1.9" rx="0.5" fill="#fff"/>
<rect x="173.2" y="209.3" width="12.7" height="12.4" rx="2.0" fill="#f9bbbb"/>
<rect x="178.6" y="214.5" width="1.9" height="1.9" rx="0.5" fill="#fff"/>
<rect x="188.2" y="211.2" width="12.7" height="12.4" rx="2.0" fill="#f9bbbb"/>
<rect x="193.6" y="216.4" width="1.9" height="1.9" rx="0.5" fill="#fff"/>
<rect x="203.2" y="210.1" width="12.7" height="12.4" rx="2.0" fill="#f9bbbb"/>
<rect x="208.6" y="215.4" width="1.9" height="1.9" rx="0.5" fill="#fff"/>
<rect x="218.2" y="207.0" width="12.7" height="12.4" rx="2.0" fill="#f9bbbb"/>
<rect x="223.6" y="212.2" width="1.9" height="1.9" rx="0.5" fill="#fff"/>
<rect x="233.2" y="201.5" width="12.7" height="12.4" rx="2.0" fill="#f9bbbb"/>
<rect x="238.6" y="206.7" width="1.9" height="1.9" rx="0.5" fill="#fff"/>
<rect x="248.2" y="197.0" width="12.7" height="12.4" rx="2.0" fill="#f9bbbb"/>
<rect x="253.6" y="202.2" width="1.9" height="1.9" rx="0.5" fill="#fff"/>
<rect x="263.1" y="195.9" width="12.7" height="12.4" rx="2.0" fill="#f9bbbb"/>
<rect x="268.6" y="201.2" width="1.9" height="1.9" rx="0.5" fill="#fff"/>
<rect x="278.1" y="199.5" width="12.7" height="12.4" rx="2.0" fill="#f9bbbb"/>
<rect x="283.6" y="204.7" width="1.9" height="1.9" rx="0.5" fill="#fff"/>
<rect x="293.1" y="206.1" width="12.7" height="12.4" rx="2.0" fill="#f9bbbb"/>
<rect x="298.6" y="211.4" width="1.9" height="1.9" rx="0.5" fill="#fff"/>
<rect x="308.1" y="211.5" width="12.7" height="12.4" rx="2.0" fill="#f9bbbb"/>
<rect x="313.6" y="216.7" width="1.9" height="1.9" rx="0.5" fill="#fff"/>
<rect x="323.1" y="211.2" width="12.7" height="12.4" rx="2.0" fill="#f9bbbb"/>
<rect x="328.6" y="216.5" width="1.9" height="1.9" rx="0.5" fill="#fff"/>
<rect x="338.1" y="210.6" width="12.7" height="12.4" rx="2.0" fill="#f9bbbb"/>
<rect x="343.6" y="215.8" width="1.9" height="1.9" rx="0.5" fill="#fff"/>
<rect x="353.1" y="209.1" width="12.7" height="12.4" rx="2.0" fill="#f9bbbb"/>
<rect x="358.6" y="214.3" width="1.9" height="1.9" rx="0.5" fill="#fff"/>
<rect x="368.1" y="203.7" width="12.7" height="12.4" rx="2.0" fill="#f9bbbb"/>
<rect x="373.6" y="209.0" width="1.9" height="1.9" rx="0.5" fill="#fff"/>
<rect x="383.1" y="199.1" width="12.7" height="12.4" rx="2.0" fill="#f9bbbb"/>
<rect x="388.6" y="204.4" width="1.9" height="1.9" rx="0.5" fill="#fff"/>
<rect x="398.1" y="196.4" width="12.7" height="12.4" rx="2.0" fill="#f9bbbb"/>
<rect x="403.6" y="201.7" width="1.9" height="1.9" rx="0.5" fill="#fff"/>
<rect x="413.1" y="196.4" width="12.7" height="12.4" rx="2.0" fill="#f9bbbb"/>
<rect x="418.6" y="201.6" width="1.9" height="1.9" rx="0.5" fill="#fff"/>
<rect x="428.1" y="196.7" width="1.7" height="12.4" rx="2.0" fill="#f9bbbb"/></g>
<path d="M292.0,222.0 C292.6,223.3 294.8,227.0 295.5,230.0 C296.2,233.0 296.6,235.8 296.4,240.0 C296.2,244.2 295.3,250.3 294.5,255.0 C293.7,259.7 292.5,263.8 291.5,268.0 C290.5,272.2 289.4,276.3 288.5,280.0 C287.6,283.7 286.9,285.8 285.8,290.0 C284.7,294.2 283.5,299.7 282.0,305.0 C280.5,310.3 278.2,317.2 277.0,322.0 C275.8,326.8 274.8,330.3 274.5,334.0 C274.2,337.7 274.5,341.2 275.5,344.0 C276.5,346.8 278.7,349.1 280.5,350.5 C282.3,351.9 284.5,352.5 286.5,352.5 C288.5,352.5 290.8,351.8 292.5,350.5 C294.2,349.2 295.9,347.2 297.0,345.0 C298.1,342.8 298.8,340.8 299.2,337.0 C299.6,333.2 299.2,327.3 299.3,322.0 C299.4,316.7 299.5,310.3 300.0,305.0 C300.5,299.7 301.6,293.8 302.3,290.0 C303.0,286.2 303.5,284.6 304.0,282.0 C304.5,279.4 304.4,276.2 305.4,274.3 C306.4,272.4 308.3,271.0 309.9,270.7 C311.5,270.4 313.6,271.1 314.8,272.3 C316.0,273.5 316.1,275.8 316.8,277.6 C317.5,279.4 318.3,281.3 319.2,283.0 C320.1,284.7 320.7,286.6 322.0,287.8 C323.3,289.0 325.3,290.0 327.0,290.4 C328.7,290.8 330.8,290.6 332.3,290.0 C333.8,289.4 334.9,288.0 336.0,286.6 C337.1,285.2 338.2,283.4 338.6,281.7 C339.0,280.0 339.0,278.0 338.4,276.2 C337.8,274.4 336.6,272.4 335.0,271.0 C333.4,269.6 331.2,268.7 329.0,267.5 C326.8,266.3 324.2,265.2 322.0,264.0 C319.8,262.8 317.4,261.8 315.5,260.5 C313.6,259.2 311.2,258.1 310.5,256.0 C309.8,253.9 310.8,250.7 311.0,248.0 C311.2,245.3 311.4,242.6 311.8,240.0 C312.2,237.4 312.3,234.4 313.2,232.5 C314.1,230.6 316.4,229.2 317.0,228.5 Z" fill="#fff"/>
<path d="M108.0,214.0 C110.8,214.1 119.3,214.1 125.0,214.5 C130.7,214.9 136.7,215.6 142.0,216.5 C147.3,217.4 150.8,218.3 157.0,220.0 C163.2,221.7 172.0,225.1 179.0,226.5 C186.0,227.9 191.8,228.8 199.0,228.5 C206.2,228.2 214.8,226.8 222.0,225.0 C229.2,223.2 235.8,219.9 242.0,218.0 C248.2,216.1 253.5,214.2 259.0,213.5 C264.5,212.8 270.5,213.4 275.0,214.0 C279.5,214.6 283.2,215.7 286.0,217.0 C288.8,218.3 290.4,219.8 292.0,222.0 C293.6,224.2 294.8,227.0 295.5,230.0 C296.2,233.0 296.6,235.8 296.4,240.0 C296.2,244.2 295.3,250.3 294.5,255.0 C293.7,259.7 292.5,263.8 291.5,268.0 C290.5,272.2 289.4,276.3 288.5,280.0 C287.6,283.7 286.9,285.8 285.8,290.0 C284.7,294.2 283.5,299.7 282.0,305.0 C280.5,310.3 278.2,317.2 277.0,322.0 C275.8,326.8 274.8,330.3 274.5,334.0 C274.2,337.7 274.5,341.2 275.5,344.0 C276.5,346.8 278.7,349.1 280.5,350.5 C282.3,351.9 284.5,352.5 286.5,352.5 C288.5,352.5 290.8,351.8 292.5,350.5 C294.2,349.2 295.9,347.2 297.0,345.0 C298.1,342.8 298.8,340.8 299.2,337.0 C299.6,333.2 299.2,327.3 299.3,322.0 C299.4,316.7 299.5,310.3 300.0,305.0 C300.5,299.7 301.6,293.8 302.3,290.0 C303.0,286.2 303.5,284.6 304.0,282.0 C304.5,279.4 304.4,276.2 305.4,274.3 C306.4,272.4 308.3,271.0 309.9,270.7 C311.5,270.4 313.6,271.1 314.8,272.3 C316.0,273.5 316.1,275.8 316.8,277.6 C317.5,279.4 318.3,281.3 319.2,283.0 C320.1,284.7 320.7,286.6 322.0,287.8 C323.3,289.0 325.3,290.0 327.0,290.4 C328.7,290.8 330.8,290.6 332.3,290.0 C333.8,289.4 334.9,288.0 336.0,286.6 C337.1,285.2 338.2,283.4 338.6,281.7 C339.0,280.0 339.0,278.0 338.4,276.2 C337.8,274.4 336.6,272.4 335.0,271.0 C333.4,269.6 331.2,268.7 329.0,267.5 C326.8,266.3 324.2,265.2 322.0,264.0 C319.8,262.8 317.4,261.8 315.5,260.5 C313.6,259.2 311.2,258.1 310.5,256.0 C309.8,253.9 310.8,250.7 311.0,248.0 C311.2,245.3 311.4,242.6 311.8,240.0 C312.2,237.4 312.3,234.4 313.2,232.5 C314.1,230.6 315.4,229.1 317.0,228.5 C318.6,227.9 320.7,228.7 323.0,228.7 C325.3,228.7 329.7,228.5 331.0,228.5 C332.3,228.5 326.3,228.8 331.0,228.5 C335.7,228.2 351.0,228.0 359.0,226.5 C367.0,225.0 371.8,221.6 379.0,219.5 C386.2,217.4 393.8,214.9 402.0,214.0 C410.2,213.1 423.7,214.0 428.0,214.0" fill="none" stroke="#fff" stroke-width="8.5" stroke-linejoin="round" stroke-linecap="round"/>
<ellipse cx="321.0" cy="276.0" rx="1.4" ry="0.95" fill="#f3b66e" transform="rotate(30 321.0 276.0)"/><ellipse cx="324.5" cy="273.5" rx="1.4" ry="0.95" fill="#f3b66e" transform="rotate(30 324.5 273.5)"/><ellipse cx="328.0" cy="272.0" rx="1.4" ry="0.95" fill="#f3b66e" transform="rotate(30 328.0 272.0)"/><ellipse cx="323.0" cy="280.0" rx="1.4" ry="0.95" fill="#f3b66e" transform="rotate(30 323.0 280.0)"/><ellipse cx="326.5" cy="278.0" rx="1.4" ry="0.95" fill="#f3b66e" transform="rotate(30 326.5 278.0)"/><ellipse cx="330.0" cy="275.5" rx="1.4" ry="0.95" fill="#f3b66e" transform="rotate(30 330.0 275.5)"/><ellipse cx="333.0" cy="274.0" rx="1.4" ry="0.95" fill="#f3b66e" transform="rotate(30 333.0 274.0)"/><ellipse cx="326.0" cy="283.5" rx="1.4" ry="0.95" fill="#f3b66e" transform="rotate(30 326.0 283.5)"/><ellipse cx="329.5" cy="281.5" rx="1.4" ry="0.95" fill="#f3b66e" transform="rotate(30 329.5 281.5)"/><ellipse cx="333.5" cy="280.0" rx="1.4" ry="0.95" fill="#f3b66e" transform="rotate(30 333.5 280.0)"/><ellipse cx="329.0" cy="286.5" rx="1.4" ry="0.95" fill="#f3b66e" transform="rotate(30 329.0 286.5)"/><ellipse cx="332.5" cy="284.5" rx="1.4" ry="0.95" fill="#f3b66e" transform="rotate(30 332.5 284.5)"/>
<g transform="translate(112.5,214.1) rotate(1)"><rect x="-2.25" y="-2.25" width="4.50" height="4.50" rx="1.1" fill="#f1677a"/><rect x="-0.6" y="-0.6" width="1.2" height="1.2" fill="#fff"/></g>
<g transform="translate(119.3,214.2) rotate(2)"><rect x="-2.25" y="-2.25" width="4.50" height="4.50" rx="1.1" fill="#f1677a"/><rect x="-0.6" y="-0.6" width="1.2" height="1.2" fill="#fff"/></g>
<g transform="translate(125.9,214.6) rotate(4)"><rect x="-2.25" y="-2.25" width="4.50" height="4.50" rx="1.1" fill="#f1677a"/><rect x="-0.6" y="-0.6" width="1.2" height="1.2" fill="#fff"/></g>
<g transform="translate(132.6,215.2) rotate(6)"><rect x="-2.25" y="-2.25" width="4.50" height="4.50" rx="1.1" fill="#f1677a"/><rect x="-0.6" y="-0.6" width="1.2" height="1.2" fill="#fff"/></g>
<g transform="translate(139.4,216.1) rotate(9)"><rect x="-2.25" y="-2.25" width="4.50" height="4.50" rx="1.1" fill="#f1677a"/><rect x="-0.6" y="-0.6" width="1.2" height="1.2" fill="#fff"/></g>
<g transform="translate(146.1,217.3) rotate(12)"><rect x="-2.25" y="-2.25" width="4.50" height="4.50" rx="1.1" fill="#f1677a"/><rect x="-0.6" y="-0.6" width="1.2" height="1.2" fill="#fff"/></g>
<g transform="translate(152.4,218.8) rotate(15)"><rect x="-2.25" y="-2.25" width="4.50" height="4.50" rx="1.1" fill="#f1677a"/><rect x="-0.6" y="-0.6" width="1.2" height="1.2" fill="#fff"/></g>
<g transform="translate(159.0,220.6) rotate(17)"><rect x="-2.25" y="-2.25" width="4.50" height="4.50" rx="1.1" fill="#f1677a"/><rect x="-0.6" y="-0.6" width="1.2" height="1.2" fill="#fff"/></g>
<g transform="translate(165.3,222.6) rotate(18)"><rect x="-2.25" y="-2.25" width="4.50" height="4.50" rx="1.1" fill="#f1677a"/><rect x="-0.6" y="-0.6" width="1.2" height="1.2" fill="#fff"/></g>
<g transform="translate(171.7,224.6) rotate(17)"><rect x="-2.25" y="-2.25" width="4.50" height="4.50" rx="1.1" fill="#f1677a"/><rect x="-0.6" y="-0.6" width="1.2" height="1.2" fill="#fff"/></g>
<g transform="translate(178.2,226.3) rotate(13)"><rect x="-2.25" y="-2.25" width="4.50" height="4.50" rx="1.1" fill="#f1677a"/><rect x="-0.6" y="-0.6" width="1.2" height="1.2" fill="#fff"/></g>
<g transform="translate(184.8,227.6) rotate(9)"><rect x="-2.25" y="-2.25" width="4.50" height="4.50" rx="1.1" fill="#f1677a"/><rect x="-0.6" y="-0.6" width="1.2" height="1.2" fill="#fff"/></g>
<g transform="translate(191.3,228.3) rotate(5)"><rect x="-2.25" y="-2.25" width="4.50" height="4.50" rx="1.1" fill="#f1677a"/><rect x="-0.6" y="-0.6" width="1.2" height="1.2" fill="#fff"/></g>
<g transform="translate(198.0,228.5) rotate(-1)"><rect x="-2.25" y="-2.25" width="4.50" height="4.50" rx="1.1" fill="#f1677a"/><rect x="-0.6" y="-0.6" width="1.2" height="1.2" fill="#fff"/></g>
<g transform="translate(204.8,228.1) rotate(-6)"><rect x="-2.25" y="-2.25" width="4.50" height="4.50" rx="1.1" fill="#f1677a"/><rect x="-0.6" y="-0.6" width="1.2" height="1.2" fill="#fff"/></g>
<g transform="translate(211.6,227.1) rotate(-9)"><rect x="-2.25" y="-2.25" width="4.50" height="4.50" rx="1.1" fill="#f1677a"/><rect x="-0.6" y="-0.6" width="1.2" height="1.2" fill="#fff"/></g>
<g transform="translate(218.0,225.9) rotate(-12)"><rect x="-2.25" y="-2.25" width="4.50" height="4.50" rx="1.1" fill="#f1677a"/><rect x="-0.6" y="-0.6" width="1.2" height="1.2" fill="#fff"/></g>
<g transform="translate(224.4,224.3) rotate(-16)"><rect x="-2.25" y="-2.25" width="4.50" height="4.50" rx="1.1" fill="#f1677a"/><rect x="-0.6" y="-0.6" width="1.2" height="1.2" fill="#fff"/></g>
<g transform="translate(230.9,222.1) rotate(-21)"><rect x="-2.25" y="-2.25" width="4.50" height="4.50" rx="1.1" fill="#f1677a"/><rect x="-0.6" y="-0.6" width="1.2" height="1.2" fill="#fff"/></g>
<g transform="translate(237.1,219.7) rotate(-21)"><rect x="-2.25" y="-2.25" width="4.50" height="4.50" rx="1.1" fill="#f1677a"/><rect x="-0.6" y="-0.6" width="1.2" height="1.2" fill="#fff"/></g>
<g transform="translate(243.6,217.5) rotate(-18)"><rect x="-2.25" y="-2.25" width="4.50" height="4.50" rx="1.1" fill="#f1677a"/><rect x="-0.6" y="-0.6" width="1.2" height="1.2" fill="#fff"/></g>
<g transform="translate(249.9,215.5) rotate(-17)"><rect x="-2.25" y="-2.25" width="4.50" height="4.50" rx="1.1" fill="#f1677a"/><rect x="-0.6" y="-0.6" width="1.2" height="1.2" fill="#fff"/></g>
<g transform="translate(256.4,213.9) rotate(-11)"><rect x="-2.25" y="-2.25" width="4.50" height="4.50" rx="1.1" fill="#f1677a"/><rect x="-0.6" y="-0.6" width="1.2" height="1.2" fill="#fff"/></g>
<g transform="translate(263.1,213.2) rotate(-1)"><rect x="-2.25" y="-2.25" width="4.50" height="4.50" rx="1.1" fill="#f1677a"/><rect x="-0.6" y="-0.6" width="1.2" height="1.2" fill="#fff"/></g>
<g transform="translate(269.7,213.4) rotate(4)"><rect x="-2.25" y="-2.25" width="4.50" height="4.50" rx="1.1" fill="#f1677a"/><rect x="-0.6" y="-0.6" width="1.2" height="1.2" fill="#fff"/></g>
<g transform="translate(276.4,214.2) rotate(9)"><rect x="-2.25" y="-2.25" width="4.50" height="4.50" rx="1.1" fill="#f1677a"/><rect x="-0.6" y="-0.6" width="1.2" height="1.2" fill="#fff"/></g>
<g transform="translate(282.8,215.7) rotate(18)"><rect x="-2.25" y="-2.25" width="4.50" height="4.50" rx="1.1" fill="#f1677a"/><rect x="-0.6" y="-0.6" width="1.2" height="1.2" fill="#fff"/></g>
<g transform="translate(288.8,218.6) rotate(36)"><rect x="-2.25" y="-2.25" width="4.50" height="4.50" rx="1.1" fill="#f1677a"/><rect x="-0.6" y="-0.6" width="1.2" height="1.2" fill="#fff"/></g>
<g transform="translate(293.1,223.7) rotate(60)"><rect x="-2.25" y="-2.25" width="4.50" height="4.50" rx="1.1" fill="#f1677a"/><rect x="-0.6" y="-0.6" width="1.2" height="1.2" fill="#fff"/></g>
<g transform="translate(295.5,230.0) rotate(76)"><rect x="-2.25" y="-2.25" width="4.50" height="4.50" rx="1.1" fill="#f1677a"/><rect x="-0.6" y="-0.6" width="1.2" height="1.2" fill="#fff"/></g>
<g transform="translate(296.4,236.9) rotate(88)"><rect x="-2.40" y="-2.40" width="4.80" height="4.80" rx="1.1" fill="#f1677a"/><rect x="-0.6" y="-0.6" width="1.2" height="1.2" fill="#fff"/></g>
<g transform="translate(296.1,243.6) rotate(96)"><rect x="-2.40" y="-2.40" width="4.80" height="4.80" rx="1.1" fill="#f1677a"/><rect x="-0.6" y="-0.6" width="1.2" height="1.2" fill="#fff"/></g>
<g transform="translate(295.3,250.2) rotate(99)"><rect x="-2.40" y="-2.40" width="4.80" height="4.80" rx="1.1" fill="#f1677a"/><rect x="-0.6" y="-0.6" width="1.2" height="1.2" fill="#fff"/></g>
<g transform="translate(294.1,256.9) rotate(101)"><rect x="-2.40" y="-2.40" width="4.80" height="4.80" rx="1.1" fill="#f1677a"/><rect x="-0.6" y="-0.6" width="1.2" height="1.2" fill="#fff"/></g>
<g transform="translate(292.6,263.7) rotate(104)"><rect x="-2.40" y="-2.40" width="4.80" height="4.80" rx="1.1" fill="#f1677a"/><rect x="-0.6" y="-0.6" width="1.2" height="1.2" fill="#fff"/></g>
<g transform="translate(291.0,270.1) rotate(104)"><rect x="-2.40" y="-2.40" width="4.80" height="4.80" rx="1.1" fill="#f1677a"/><rect x="-0.6" y="-0.6" width="1.2" height="1.2" fill="#fff"/></g>
<g transform="translate(289.4,276.7) rotate(104)"><rect x="-2.40" y="-2.40" width="4.80" height="4.80" rx="1.1" fill="#f1677a"/><rect x="-0.6" y="-0.6" width="1.2" height="1.2" fill="#fff"/></g>
<g transform="translate(287.6,283.5) rotate(105)"><rect x="-2.40" y="-2.40" width="4.80" height="4.80" rx="1.1" fill="#f1677a"/><rect x="-0.6" y="-0.6" width="1.2" height="1.2" fill="#fff"/></g>
<g transform="translate(285.8,290.0) rotate(105)"><rect x="-2.40" y="-2.40" width="4.80" height="4.80" rx="1.1" fill="#f1677a"/><rect x="-0.6" y="-0.6" width="1.2" height="1.2" fill="#fff"/></g>
<g transform="translate(284.2,296.6) rotate(104)"><rect x="-2.40" y="-2.40" width="4.80" height="4.80" rx="1.1" fill="#f1677a"/><rect x="-0.6" y="-0.6" width="1.2" height="1.2" fill="#fff"/></g>
<g transform="translate(282.5,303.1) rotate(105)"><rect x="-2.40" y="-2.40" width="4.80" height="4.80" rx="1.1" fill="#f1677a"/><rect x="-0.6" y="-0.6" width="1.2" height="1.2" fill="#fff"/></g>
<g transform="translate(280.7,309.6) rotate(107)"><rect x="-2.40" y="-2.40" width="4.80" height="4.80" rx="1.1" fill="#f1677a"/><rect x="-0.6" y="-0.6" width="1.2" height="1.2" fill="#fff"/></g>
<g transform="translate(278.6,316.2) rotate(107)"><rect x="-2.40" y="-2.40" width="4.80" height="4.80" rx="1.1" fill="#f1677a"/><rect x="-0.6" y="-0.6" width="1.2" height="1.2" fill="#fff"/></g>
<g transform="translate(276.8,322.7) rotate(105)"><rect x="-2.40" y="-2.40" width="4.80" height="4.80" rx="1.1" fill="#f1677a"/><rect x="-0.6" y="-0.6" width="1.2" height="1.2" fill="#fff"/></g>
<g transform="translate(275.2,329.3) rotate(102)"><rect x="-2.40" y="-2.40" width="4.80" height="4.80" rx="1.1" fill="#f1677a"/><rect x="-0.6" y="-0.6" width="1.2" height="1.2" fill="#fff"/></g>
<g transform="translate(274.4,336.0) rotate(91)"><rect x="-2.40" y="-2.40" width="4.80" height="4.80" rx="1.1" fill="#f1677a"/><rect x="-0.6" y="-0.6" width="1.2" height="1.2" fill="#fff"/></g>
<g transform="translate(275.1,342.7) rotate(76)"><rect x="-2.40" y="-2.40" width="4.80" height="4.80" rx="1.1" fill="#f1677a"/><rect x="-0.6" y="-0.6" width="1.2" height="1.2" fill="#fff"/></g>
<g transform="translate(278.4,348.6) rotate(48)"><rect x="-2.40" y="-2.40" width="4.80" height="4.80" rx="1.1" fill="#f1677a"/><rect x="-0.6" y="-0.6" width="1.2" height="1.2" fill="#fff"/></g>
<g transform="translate(284.2,352.2) rotate(14)"><rect x="-2.40" y="-2.40" width="4.80" height="4.80" rx="1.1" fill="#f1677a"/><rect x="-0.6" y="-0.6" width="1.2" height="1.2" fill="#fff"/></g>
<g transform="translate(290.6,351.6) rotate(-23)"><rect x="-2.40" y="-2.40" width="4.80" height="4.80" rx="1.1" fill="#f1677a"/><rect x="-0.6" y="-0.6" width="1.2" height="1.2" fill="#fff"/></g>
<g transform="translate(295.8,347.0) rotate(-55)"><rect x="-2.40" y="-2.40" width="4.80" height="4.80" rx="1.1" fill="#f1677a"/><rect x="-0.6" y="-0.6" width="1.2" height="1.2" fill="#fff"/></g>
<g transform="translate(298.6,340.9) rotate(-76)"><rect x="-2.40" y="-2.40" width="4.80" height="4.80" rx="1.1" fill="#f1677a"/><rect x="-0.6" y="-0.6" width="1.2" height="1.2" fill="#fff"/></g>
<g transform="translate(299.4,334.2) rotate(-89)"><rect x="-2.40" y="-2.40" width="4.80" height="4.80" rx="1.1" fill="#f1677a"/><rect x="-0.6" y="-0.6" width="1.2" height="1.2" fill="#fff"/></g>
<g transform="translate(299.3,327.2) rotate(-91)"><rect x="-2.40" y="-2.40" width="4.80" height="4.80" rx="1.1" fill="#f1677a"/><rect x="-0.6" y="-0.6" width="1.2" height="1.2" fill="#fff"/></g>
<g transform="translate(299.3,320.5) rotate(-89)"><rect x="-2.40" y="-2.40" width="4.80" height="4.80" rx="1.1" fill="#f1677a"/><rect x="-0.6" y="-0.6" width="1.2" height="1.2" fill="#fff"/></g>
<g transform="translate(299.5,313.8) rotate(-88)"><rect x="-2.40" y="-2.40" width="4.80" height="4.80" rx="1.1" fill="#f1677a"/><rect x="-0.6" y="-0.6" width="1.2" height="1.2" fill="#fff"/></g>
<g transform="translate(299.8,307.0) rotate(-86)"><rect x="-2.40" y="-2.40" width="4.80" height="4.80" rx="1.1" fill="#f1677a"/><rect x="-0.6" y="-0.6" width="1.2" height="1.2" fill="#fff"/></g>
<g transform="translate(300.6,300.1) rotate(-82)"><rect x="-2.40" y="-2.40" width="4.80" height="4.80" rx="1.1" fill="#f1677a"/><rect x="-0.6" y="-0.6" width="1.2" height="1.2" fill="#fff"/></g>
<g transform="translate(301.7,293.6) rotate(-80)"><rect x="-2.40" y="-2.40" width="4.80" height="4.80" rx="1.1" fill="#f1677a"/><rect x="-0.6" y="-0.6" width="1.2" height="1.2" fill="#fff"/></g>
<g transform="translate(302.9,286.8) rotate(-78)"><rect x="-2.40" y="-2.40" width="4.80" height="4.80" rx="1.1" fill="#f1677a"/><rect x="-0.6" y="-0.6" width="1.2" height="1.2" fill="#fff"/></g>
<g transform="translate(304.3,280.1) rotate(-83)"><rect x="-2.40" y="-2.40" width="4.80" height="4.80" rx="1.1" fill="#f1677a"/><rect x="-0.6" y="-0.6" width="1.2" height="1.2" fill="#fff"/></g>
<g transform="translate(305.7,273.7) rotate(-58)"><rect x="-2.40" y="-2.40" width="4.80" height="4.80" rx="1.1" fill="#f1677a"/><rect x="-0.6" y="-0.6" width="1.2" height="1.2" fill="#fff"/></g>
<g transform="translate(310.2,270.7) rotate(-10)"><rect x="-1.95" y="-1.95" width="3.90" height="3.90" rx="1.1" fill="#f1677a"/><rect x="-0.6" y="-0.6" width="1.2" height="1.2" fill="#fff"/></g>
<g transform="translate(315.0,272.5) rotate(48)"><rect x="-1.95" y="-1.95" width="3.90" height="3.90" rx="1.1" fill="#f1677a"/><rect x="-0.6" y="-0.6" width="1.2" height="1.2" fill="#fff"/></g>
<g transform="translate(316.8,277.6) rotate(69)"><rect x="-1.95" y="-1.95" width="3.90" height="3.90" rx="1.1" fill="#f1677a"/><rect x="-0.6" y="-0.6" width="1.2" height="1.2" fill="#fff"/></g>
<g transform="translate(318.9,282.5) rotate(64)"><rect x="-1.95" y="-1.95" width="3.90" height="3.90" rx="1.1" fill="#f1677a"/><rect x="-0.6" y="-0.6" width="1.2" height="1.2" fill="#fff"/></g>
<g transform="translate(321.6,287.4) rotate(51)"><rect x="-1.95" y="-1.95" width="3.90" height="3.90" rx="1.1" fill="#f1677a"/><rect x="-0.6" y="-0.6" width="1.2" height="1.2" fill="#fff"/></g>
<g transform="translate(326.1,290.2) rotate(19)"><rect x="-1.95" y="-1.95" width="3.90" height="3.90" rx="1.1" fill="#f1677a"/><rect x="-0.6" y="-0.6" width="1.2" height="1.2" fill="#fff"/></g>
<g transform="translate(331.5,290.3) rotate(-14)"><rect x="-1.95" y="-1.95" width="3.90" height="3.90" rx="1.1" fill="#f1677a"/><rect x="-0.6" y="-0.6" width="1.2" height="1.2" fill="#fff"/></g>
<g transform="translate(335.6,287.1) rotate(-51)"><rect x="-1.95" y="-1.95" width="3.90" height="3.90" rx="1.1" fill="#f1677a"/><rect x="-0.6" y="-0.6" width="1.2" height="1.2" fill="#fff"/></g>
<g transform="translate(338.3,282.6) rotate(-69)"><rect x="-1.95" y="-1.95" width="3.90" height="3.90" rx="1.1" fill="#f1677a"/><rect x="-0.6" y="-0.6" width="1.2" height="1.2" fill="#fff"/></g>
<g transform="translate(338.7,277.1) rotate(-101)"><rect x="-1.95" y="-1.95" width="3.90" height="3.90" rx="1.1" fill="#f1677a"/><rect x="-0.6" y="-0.6" width="1.2" height="1.2" fill="#fff"/></g>
<g transform="translate(336.3,272.4) rotate(-128)"><rect x="-1.95" y="-1.95" width="3.90" height="3.90" rx="1.1" fill="#f1677a"/><rect x="-0.6" y="-0.6" width="1.2" height="1.2" fill="#fff"/></g>
<g transform="translate(332.1,269.1) rotate(-152)"><rect x="-1.95" y="-1.95" width="3.90" height="3.90" rx="1.1" fill="#f1677a"/><rect x="-0.6" y="-0.6" width="1.2" height="1.2" fill="#fff"/></g>
<g transform="translate(327.2,266.6) rotate(-153)"><rect x="-1.95" y="-1.95" width="3.90" height="3.90" rx="1.1" fill="#f1677a"/><rect x="-0.6" y="-0.6" width="1.2" height="1.2" fill="#fff"/></g>
<g transform="translate(322.5,264.3) rotate(-153)"><rect x="-1.95" y="-1.95" width="3.90" height="3.90" rx="1.1" fill="#f1677a"/><rect x="-0.6" y="-0.6" width="1.2" height="1.2" fill="#fff"/></g>
<g transform="translate(317.5,261.7) rotate(-152)"><rect x="-1.95" y="-1.95" width="3.90" height="3.90" rx="1.1" fill="#f1677a"/><rect x="-0.6" y="-0.6" width="1.2" height="1.2" fill="#fff"/></g>
<g transform="translate(313.1,258.9) rotate(-146)"><rect x="-1.95" y="-1.95" width="3.90" height="3.90" rx="1.1" fill="#f1677a"/><rect x="-0.6" y="-0.6" width="1.2" height="1.2" fill="#fff"/></g>
<g transform="translate(310.2,254.7) rotate(-95)"><rect x="-1.95" y="-1.95" width="3.90" height="3.90" rx="1.1" fill="#f1677a"/><rect x="-0.6" y="-0.6" width="1.2" height="1.2" fill="#fff"/></g>
<g transform="translate(311.0,247.7) rotate(-85)"><rect x="-2.40" y="-2.40" width="4.80" height="4.80" rx="1.1" fill="#f1677a"/><rect x="-0.6" y="-0.6" width="1.2" height="1.2" fill="#fff"/></g>
<g transform="translate(311.7,240.9) rotate(-83)"><rect x="-2.40" y="-2.40" width="4.80" height="4.80" rx="1.1" fill="#f1677a"/><rect x="-0.6" y="-0.6" width="1.2" height="1.2" fill="#fff"/></g>
<g transform="translate(312.6,234.3) rotate(-78)"><rect x="-2.40" y="-2.40" width="4.80" height="4.80" rx="1.1" fill="#f1677a"/><rect x="-0.6" y="-0.6" width="1.2" height="1.2" fill="#fff"/></g>
<g transform="translate(316.2,228.9) rotate(-32)"><rect x="-2.25" y="-2.25" width="4.50" height="4.50" rx="1.1" fill="#f1677a"/><rect x="-0.6" y="-0.6" width="1.2" height="1.2" fill="#fff"/></g>
<g transform="translate(323.0,228.7) rotate(1)"><rect x="-2.25" y="-2.25" width="4.50" height="4.50" rx="1.1" fill="#f1677a"/><rect x="-0.6" y="-0.6" width="1.2" height="1.2" fill="#fff"/></g>
<g transform="translate(329.4,228.6) rotate(-2)"><rect x="-2.25" y="-2.25" width="4.50" height="4.50" rx="1.1" fill="#f1677a"/><rect x="-0.6" y="-0.6" width="1.2" height="1.2" fill="#fff"/></g>
<g transform="translate(333.8,228.4) rotate(-2)"><rect x="-2.25" y="-2.25" width="4.50" height="4.50" rx="1.1" fill="#f1677a"/><rect x="-0.6" y="-0.6" width="1.2" height="1.2" fill="#fff"/></g>
<g transform="translate(340.5,228.1) rotate(-2)"><rect x="-2.25" y="-2.25" width="4.50" height="4.50" rx="1.1" fill="#f1677a"/><rect x="-0.6" y="-0.6" width="1.2" height="1.2" fill="#fff"/></g>
<g transform="translate(347.1,227.8) rotate(-3)"><rect x="-2.25" y="-2.25" width="4.50" height="4.50" rx="1.1" fill="#f1677a"/><rect x="-0.6" y="-0.6" width="1.2" height="1.2" fill="#fff"/></g>
<g transform="translate(353.7,227.2) rotate(-6)"><rect x="-2.25" y="-2.25" width="4.50" height="4.50" rx="1.1" fill="#f1677a"/><rect x="-0.6" y="-0.6" width="1.2" height="1.2" fill="#fff"/></g>
<g transform="translate(360.3,226.2) rotate(-12)"><rect x="-2.25" y="-2.25" width="4.50" height="4.50" rx="1.1" fill="#f1677a"/><rect x="-0.6" y="-0.6" width="1.2" height="1.2" fill="#fff"/></g>
<g transform="translate(366.9,224.2) rotate(-21)"><rect x="-2.25" y="-2.25" width="4.50" height="4.50" rx="1.1" fill="#f1677a"/><rect x="-0.6" y="-0.6" width="1.2" height="1.2" fill="#fff"/></g>
<g transform="translate(373.0,221.6) rotate(-23)"><rect x="-2.25" y="-2.25" width="4.50" height="4.50" rx="1.1" fill="#f1677a"/><rect x="-0.6" y="-0.6" width="1.2" height="1.2" fill="#fff"/></g>
<g transform="translate(379.3,219.4) rotate(-16)"><rect x="-2.25" y="-2.25" width="4.50" height="4.50" rx="1.1" fill="#f1677a"/><rect x="-0.6" y="-0.6" width="1.2" height="1.2" fill="#fff"/></g>
<g transform="translate(385.8,217.5) rotate(-16)"><rect x="-2.25" y="-2.25" width="4.50" height="4.50" rx="1.1" fill="#f1677a"/><rect x="-0.6" y="-0.6" width="1.2" height="1.2" fill="#fff"/></g>
<g transform="translate(392.2,215.8) rotate(-14)"><rect x="-2.25" y="-2.25" width="4.50" height="4.50" rx="1.1" fill="#f1677a"/><rect x="-0.6" y="-0.6" width="1.2" height="1.2" fill="#fff"/></g>
<g transform="translate(398.6,214.5) rotate(-9)"><rect x="-2.25" y="-2.25" width="4.50" height="4.50" rx="1.1" fill="#f1677a"/><rect x="-0.6" y="-0.6" width="1.2" height="1.2" fill="#fff"/></g>
<g transform="translate(405.4,213.7) rotate(-3)"><rect x="-2.25" y="-2.25" width="4.50" height="4.50" rx="1.1" fill="#f1677a"/><rect x="-0.6" y="-0.6" width="1.2" height="1.2" fill="#fff"/></g>
<g transform="translate(412.2,213.6) rotate(0)"><rect x="-2.25" y="-2.25" width="4.50" height="4.50" rx="1.1" fill="#f1677a"/><rect x="-0.6" y="-0.6" width="1.2" height="1.2" fill="#fff"/></g>
<g transform="translate(418.8,213.7) rotate(2)"><rect x="-2.25" y="-2.25" width="4.50" height="4.50" rx="1.1" fill="#f1677a"/><rect x="-0.6" y="-0.6" width="1.2" height="1.2" fill="#fff"/></g>
<g transform="translate(425.5,213.9) rotate(2)"><rect x="-2.25" y="-2.25" width="4.50" height="4.50" rx="1.1" fill="#f1677a"/><rect x="-0.6" y="-0.6" width="1.2" height="1.2" fill="#fff"/></g>
<g fill="#cde7ad"><path d="M162.8,219.8 Q161.5,211.7 160.0,201.8 Q158.5,211.7 157.2,219.8 Z"/><path d="M158.6,217.4 Q157.2,219.6 155.5,222.3 Q158.7,222.2 161.4,222.2 Z"/><path d="M159.3,222.5 Q163.6,222.4 169.0,222.3 Q164.5,219.5 160.7,217.1 Z"/><path d="M157.2,220.3 Q159.0,222.7 161.0,225.8 Q161.9,222.3 162.8,219.3 Z"/><circle cx="160.0" cy="219.8" r="3"/></g><circle cx="160.0" cy="219.8" r="1.4" fill="#f4a043"/>
<g fill="#cde7ad"><path d="M251.8,208.5 Q246.7,210.9 240.4,213.7 Q247.3,213.8 253.0,213.9 Z"/><path d="M253.5,213.8 Q256.6,211.0 260.4,207.7 Q255.4,208.3 251.3,208.6 Z"/><path d="M255.1,211.7 Q254.3,209.2 253.4,206.2 Q251.4,208.7 249.7,210.7 Z"/><path d="M249.6,211.2 Q250.9,213.4 252.4,216.2 Q253.9,213.4 255.2,211.2 Z"/><circle cx="252.4" cy="211.2" r="3"/></g><circle cx="252.4" cy="211.2" r="1.4" fill="#f4a043"/>
<g fill="#cde7ad"><path d="M380.6,217.5 Q379.3,209.8 377.8,200.5 Q376.3,209.8 375.0,217.5 Z"/><path d="M376.2,215.2 Q372.0,219.9 366.8,225.5 Q373.7,222.3 379.4,219.8 Z"/><path d="M378.6,220.2 Q384.1,217.1 390.8,213.5 Q383.2,214.3 377.0,214.8 Z"/><path d="M375.1,218.4 Q377.3,220.7 379.8,223.5 Q380.1,219.7 380.5,216.6 Z"/><circle cx="377.8" cy="217.5" r="3"/></g><circle cx="377.8" cy="217.5" r="1.4" fill="#f4a043"/>
<path d="M205.4,134.0 C205.2,136.7 204.2,144.8 203.9,150.0 C203.6,155.2 203.4,160.0 203.8,165.0 C204.2,170.0 205.7,175.0 206.2,180.0 C206.7,185.0 207.1,190.0 206.8,195.0 C206.5,200.0 205.4,205.0 204.6,210.0 C203.8,215.0 202.5,220.0 202.0,225.0 C201.5,230.0 201.7,232.5 201.6,240.0 C201.5,247.5 201.4,260.3 201.3,270.0 C201.2,279.7 201.1,293.3 201.0,298.0" fill="none" stroke="#8cbab5" stroke-width="6" stroke-linecap="butt"/>
<path d="M205.4,134.0 C205.2,136.7 204.2,144.8 203.9,150.0 C203.6,155.2 203.4,160.0 203.8,165.0 C204.2,170.0 205.7,175.0 206.2,180.0 C206.7,185.0 207.1,190.0 206.8,195.0 C206.5,200.0 205.4,205.0 204.6,210.0 C203.8,215.0 202.5,220.0 202.0,225.0 C201.5,230.0 201.7,232.5 201.6,240.0 C201.5,247.5 201.4,260.3 201.3,270.0 C201.2,279.7 201.1,293.3 201.0,298.0" fill="none" stroke="#f6fafa" stroke-width="4" stroke-linecap="butt"/>
<g transform="translate(169.3,250.3) rotate(30) scale(1.00)"><path d="M-5.5,0 Q0,-6.4 5.5,0 Q0,6.4 -5.5,0 Z" fill="#6cc247"/><path d="M-2.5,0 L2.5,0" stroke="#3f9a37" stroke-width="0.9"/><circle r="1" fill="#2f8a33"/></g>
<g transform="translate(222.7,269.0) rotate(70) scale(1.00)"><path d="M-5.5,0 Q0,-6.4 5.5,0 Q0,6.4 -5.5,0 Z" fill="#6cc247"/><path d="M-2.5,0 L2.5,0" stroke="#3f9a37" stroke-width="0.9"/><circle r="1" fill="#2f8a33"/></g>
<g transform="translate(116.0,291.7) rotate(-45) scale(1.00)"><path d="M-5.5,0 Q0,-6.4 5.5,0 Q0,6.4 -5.5,0 Z" fill="#6cc247"/><path d="M-2.5,0 L2.5,0" stroke="#3f9a37" stroke-width="0.9"/><circle r="1" fill="#2f8a33"/></g>
<g transform="translate(264.0,239.7) rotate(10) scale(1.00)"><path d="M-5.5,0 Q0,-6.4 5.5,0 Q0,6.4 -5.5,0 Z" fill="#6cc247"/><path d="M-2.5,0 L2.5,0" stroke="#3f9a37" stroke-width="0.9"/><circle r="1" fill="#2f8a33"/></g>
<g transform="translate(164.0,349.7) rotate(-60) scale(1.00)"><path d="M-5.5,0 Q0,-6.4 5.5,0 Q0,6.4 -5.5,0 Z" fill="#6cc247"/><path d="M-2.5,0 L2.5,0" stroke="#3f9a37" stroke-width="0.9"/><circle r="1" fill="#2f8a33"/></g>
<g transform="translate(254.7,315.0) rotate(-70) scale(1.00)"><path d="M-5.5,0 Q0,-6.4 5.5,0 Q0,6.4 -5.5,0 Z" fill="#6cc247"/><path d="M-2.5,0 L2.5,0" stroke="#3f9a37" stroke-width="0.9"/><circle r="1" fill="#2f8a33"/></g>
<g transform="translate(416.0,254.3) rotate(20) scale(1.00)"><path d="M-5.5,0 Q0,-6.4 5.5,0 Q0,6.4 -5.5,0 Z" fill="#6cc247"/><path d="M-2.5,0 L2.5,0" stroke="#3f9a37" stroke-width="0.9"/><circle r="1" fill="#2f8a33"/></g>
<g transform="translate(357.3,303.0) rotate(60) scale(1.00)"><path d="M-5.5,0 Q0,-6.4 5.5,0 Q0,6.4 -5.5,0 Z" fill="#6cc247"/><path d="M-2.5,0 L2.5,0" stroke="#3f9a37" stroke-width="0.9"/><circle r="1" fill="#2f8a33"/></g>
<g transform="translate(337.3,352.3) rotate(60) scale(1.00)"><path d="M-5.5,0 Q0,-6.4 5.5,0 Q0,6.4 -5.5,0 Z" fill="#6cc247"/><path d="M-2.5,0 L2.5,0" stroke="#3f9a37" stroke-width="0.9"/><circle r="1" fill="#2f8a33"/></g>
<path d="M-11.0,0 Q0,-5.2 11.0,0 Q0,3.2 -11.0,0 Z" transform="translate(195.0,242.0) rotate(-25)" fill="#e4a2dc"/>
<path d="M-13.0,0 Q0,-5.2 13.0,0 Q0,3.2 -13.0,0 Z" transform="translate(185.3,269.7) rotate(35)" fill="#e4a2dc"/>
<path d="M-13.0,0 Q0,-5.2 13.0,0 Q0,3.2 -13.0,0 Z" transform="translate(236.7,285.7) rotate(-28)" fill="#e4a2dc"/>
<path d="M-10.0,0 Q0,-5.2 10.0,0 Q0,3.2 -10.0,0 Z" transform="translate(248.0,233.0) rotate(-23)" fill="#e4a2dc"/>
<path d="M-11.0,0 Q0,-5.2 11.0,0 Q0,3.2 -11.0,0 Z" transform="translate(142.7,281.7) rotate(-33)" fill="#e4a2dc"/>
<path d="M-11.0,0 Q0,-5.2 11.0,0 Q0,3.2 -11.0,0 Z" transform="translate(128.7,315.0) rotate(38)" fill="#e4a2dc"/>
<path d="M-8.0,0 Q0,-5.2 8.0,0 Q0,3.2 -8.0,0 Z" transform="translate(216.0,340.0) rotate(45)" fill="#e4a2dc"/>
<path d="M-8.0,0 Q0,-5.2 8.0,0 Q0,3.2 -8.0,0 Z" transform="translate(197.0,367.7) rotate(27)" fill="#e4a2dc"/>
<path d="M-6.0,0 Q0,-5.2 6.0,0 Q0,3.2 -6.0,0 Z" transform="translate(413.0,234.0) rotate(45)" fill="#e4a2dc"/>
<path d="M-6.0,0 Q0,-5.2 6.0,0 Q0,3.2 -6.0,0 Z" transform="translate(399.0,263.0) rotate(-20)" fill="#e4a2dc"/>
<path d="M-11.0,0 Q0,-5.2 11.0,0 Q0,3.2 -11.0,0 Z" transform="translate(326.7,313.0) rotate(33)" fill="#e4a2dc"/>
<path d="M-7.0,0 Q0,-5.2 7.0,0 Q0,3.2 -7.0,0 Z" transform="translate(418.0,347.0) rotate(50)" fill="#e4a2dc"/>
<path d="M-11.0,0 Q0,-5.2 11.0,0 Q0,3.2 -11.0,0 Z" transform="translate(314.0,366.0) rotate(30)" fill="#e4a2dc"/>
<path d="M-7.0,0 Q0,-5.2 7.0,0 Q0,3.2 -7.0,0 Z" transform="translate(256.0,357.0) rotate(-30)" fill="#e4a2dc"/>
<path d="M-6.0,0 Q0,-5.2 6.0,0 Q0,3.2 -6.0,0 Z" transform="translate(137.3,386.0) rotate(-30)" fill="#e4a2dc"/>
<path d="M-7.0,0 Q0,-5.2 7.0,0 Q0,3.2 -7.0,0 Z" transform="translate(363.5,387.5) rotate(-30)" fill="#e4a2dc"/>
<path d="M-7.0,0 Q0,-5.2 7.0,0 Q0,3.2 -7.0,0 Z" transform="translate(252.5,381.0) rotate(-30)" fill="#e4a2dc"/>
<path d="M0,-7.0 Q8.4,0 0,7.0 Q2.9,0 0,-7.0 Z" transform="translate(168.0,328.3) rotate(0)" fill="#e4a2dc"/>
<path d="M0,-7.0 Q8.4,0 0,7.0 Q2.9,0 0,-7.0 Z" transform="translate(379.3,329.7) rotate(180)" fill="#e4a2dc"/>
<path d="M134.7,297.0 L134.7,394.5" stroke="#f0583c" stroke-width="2.2" fill="none"/>
<path d="M143.5,297.0 L143.5,381.5" stroke="#5b8fe0" stroke-width="2.2" fill="none"/>
<path d="M178.7,300.0 L178.7,381.0" stroke="#f0583c" stroke-width="2.2" fill="none"/>
<path d="M225.8,300.0 L225.8,396.0" stroke="#5b8fe0" stroke-width="2.2" fill="none"/>
<path d="M260.0,340.0 L260.0,380.0" stroke="#f0583c" stroke-width="2.2" fill="none"/>
<path d="M312.5,339.0 L312.5,377.0" stroke="#5b8fe0" stroke-width="2.2" fill="none"/>
<path d="M376.4,299.0 L376.4,392.0" stroke="#f0583c" stroke-width="2.2" fill="none"/>
<path d="M383.9,299.0 L383.9,380.0" stroke="#5b8fe0" stroke-width="2.2" fill="none"/>
<path d="M106.0,376.0 C112.2,376.9 131.5,378.8 143.0,381.3 C154.5,383.8 164.3,388.4 175.0,391.0 C185.7,393.6 196.2,396.3 207.0,397.0 C217.8,397.7 231.2,396.1 240.0,395.0 C248.8,393.9 252.5,392.9 260.0,390.7 C267.5,388.5 276.2,384.3 285.0,382.0 C293.8,379.7 303.0,377.9 313.0,377.0 C323.0,376.1 334.5,376.1 345.0,376.5 C355.5,376.9 366.0,378.0 376.0,379.6 C386.0,381.2 396.0,383.5 405.0,386.0 C414.0,388.5 425.8,393.1 430.0,394.5" stroke="#5b8fe0" stroke-width="3.5" fill="none"/>
<path d="M106.0,396.8 C112.2,396.0 130.7,394.8 143.0,392.0 C155.3,389.2 169.3,382.8 180.0,380.0 C190.7,377.2 197.8,375.6 207.0,375.0 C216.2,374.4 226.2,375.7 235.0,376.5 C243.8,377.3 250.8,377.8 260.0,380.0 C269.2,382.2 278.5,387.3 290.0,390.0 C301.5,392.7 318.2,395.5 329.0,396.4 C339.8,397.3 347.2,396.2 355.0,395.5 C362.8,394.8 367.7,393.8 376.0,392.0 C384.3,390.2 396.0,387.3 405.0,385.0 C414.0,382.7 425.8,379.4 430.0,378.3" stroke="#f0583c" stroke-width="3.7" fill="none"/>
<path d="M127.8,238.5 L127.8,262.5 C127.8,274.5 134.7,286.0 134.7,298.0" stroke="#f0583c" stroke-width="2.1" fill="none"/><path d="M127.8,238.0 Q128.3,230.5 136.8,230.5" stroke="#f0583c" stroke-width="2.1" fill="none" stroke-linecap="round"/><path d="M127.8,244.0 Q128.3,236.5 136.8,236.5" stroke="#f0583c" stroke-width="2.1" fill="none" stroke-linecap="round"/><path d="M127.8,250.5 Q128.3,243.0 136.8,243.0" stroke="#f0583c" stroke-width="2.1" fill="none" stroke-linecap="round"/><path d="M127.8,257.5 Q128.3,250.0 136.8,250.0" stroke="#f0583c" stroke-width="2.1" fill="none" stroke-linecap="round"/><path d="M127.8,263.5 Q128.3,256.0 136.8,256.0" stroke="#f0583c" stroke-width="2.1" fill="none" stroke-linecap="round"/><path d="M127.8,246.5 Q121.3,242.5 122.8,229.5" stroke="#f0583c" stroke-width="2.1" fill="none" stroke-linecap="round"/><path d="M127.8,250.0 Q114.3,249.0 114.3,235.5" stroke="#f0583c" stroke-width="2.1" fill="none" stroke-linecap="round"/><path d="M127.8,258.5 Q120.3,256.5 119.3,249.5" stroke="#f0583c" stroke-width="2.1" fill="none" stroke-linecap="round"/>
<path d="M149.5,238.5 L149.5,262.5 C149.5,274.5 143.5,286.0 143.5,298.0" stroke="#5b8fe0" stroke-width="2.1" fill="none"/><path d="M149.5,238.0 Q149.0,230.5 140.5,230.5" stroke="#5b8fe0" stroke-width="2.1" fill="none" stroke-linecap="round"/><path d="M149.5,244.0 Q149.0,236.5 140.5,236.5" stroke="#5b8fe0" stroke-width="2.1" fill="none" stroke-linecap="round"/><path d="M149.5,250.5 Q149.0,243.0 140.5,243.0" stroke="#5b8fe0" stroke-width="2.1" fill="none" stroke-linecap="round"/><path d="M149.5,257.5 Q149.0,250.0 140.5,250.0" stroke="#5b8fe0" stroke-width="2.1" fill="none" stroke-linecap="round"/><path d="M149.5,263.5 Q149.0,256.0 140.5,256.0" stroke="#5b8fe0" stroke-width="2.1" fill="none" stroke-linecap="round"/><path d="M149.5,246.5 Q156.0,242.5 154.5,229.5" stroke="#5b8fe0" stroke-width="2.1" fill="none" stroke-linecap="round"/><path d="M149.5,250.0 Q163.0,249.0 163.0,235.5" stroke="#5b8fe0" stroke-width="2.1" fill="none" stroke-linecap="round"/><path d="M149.5,258.5 Q157.0,256.5 158.0,249.5" stroke="#5b8fe0" stroke-width="2.1" fill="none" stroke-linecap="round"/>
<path d="M369.2,254.0 L369.2,278.0 C369.2,290.0 376.4,288.0 376.4,300.0" stroke="#f0583c" stroke-width="2.1" fill="none"/><path d="M369.2,253.5 Q369.7,246.0 378.2,246.0" stroke="#f0583c" stroke-width="2.1" fill="none" stroke-linecap="round"/><path d="M369.2,259.5 Q369.7,252.0 378.2,252.0" stroke="#f0583c" stroke-width="2.1" fill="none" stroke-linecap="round"/><path d="M369.2,266.0 Q369.7,258.5 378.2,258.5" stroke="#f0583c" stroke-width="2.1" fill="none" stroke-linecap="round"/><path d="M369.2,273.0 Q369.7,265.5 378.2,265.5" stroke="#f0583c" stroke-width="2.1" fill="none" stroke-linecap="round"/><path d="M369.2,279.0 Q369.7,271.5 378.2,271.5" stroke="#f0583c" stroke-width="2.1" fill="none" stroke-linecap="round"/><path d="M369.2,262.0 Q362.7,258.0 364.2,245.0" stroke="#f0583c" stroke-width="2.1" fill="none" stroke-linecap="round"/><path d="M369.2,265.5 Q355.7,264.5 355.7,251.0" stroke="#f0583c" stroke-width="2.1" fill="none" stroke-linecap="round"/><path d="M369.2,274.0 Q361.7,272.0 360.7,265.0" stroke="#f0583c" stroke-width="2.1" fill="none" stroke-linecap="round"/>
<path d="M390.3,254.0 L390.3,278.0 C390.3,290.0 383.9,288.0 383.9,300.0" stroke="#5b8fe0" stroke-width="2.1" fill="none"/><path d="M390.3,253.5 Q389.8,246.0 381.3,246.0" stroke="#5b8fe0" stroke-width="2.1" fill="none" stroke-linecap="round"/><path d="M390.3,259.5 Q389.8,252.0 381.3,252.0" stroke="#5b8fe0" stroke-width="2.1" fill="none" stroke-linecap="round"/><path d="M390.3,266.0 Q389.8,258.5 381.3,258.5" stroke="#5b8fe0" stroke-width="2.1" fill="none" stroke-linecap="round"/><path d="M390.3,273.0 Q389.8,265.5 381.3,265.5" stroke="#5b8fe0" stroke-width="2.1" fill="none" stroke-linecap="round"/><path d="M390.3,279.0 Q389.8,271.5 381.3,271.5" stroke="#5b8fe0" stroke-width="2.1" fill="none" stroke-linecap="round"/><path d="M390.3,262.0 Q396.8,258.0 395.3,245.0" stroke="#5b8fe0" stroke-width="2.1" fill="none" stroke-linecap="round"/><path d="M390.3,265.5 Q403.8,264.5 403.8,251.0" stroke="#5b8fe0" stroke-width="2.1" fill="none" stroke-linecap="round"/><path d="M390.3,274.0 Q397.8,272.0 398.8,265.0" stroke="#5b8fe0" stroke-width="2.1" fill="none" stroke-linecap="round"/>
<path d="M178.7,296.0 L178.7,330.0" stroke="#f0583c" stroke-width="2" fill="none"/><path d="M178.7,305.0 C178.7,301.0 181.7,298.0 187.2,297.0" stroke="#f0583c" stroke-width="1.8" fill="none" stroke-linecap="round"/><path d="M178.7,311.5 C178.7,307.5 181.7,304.5 187.2,303.5" stroke="#f0583c" stroke-width="1.8" fill="none" stroke-linecap="round"/><path d="M178.7,318.0 C178.7,314.0 181.7,311.0 187.2,310.0" stroke="#f0583c" stroke-width="1.8" fill="none" stroke-linecap="round"/><path d="M178.7,324.5 C178.7,320.5 181.7,317.5 187.2,316.5" stroke="#f0583c" stroke-width="1.8" fill="none" stroke-linecap="round"/><path d="M178.7,331.0 C178.7,327.0 181.7,324.0 187.2,323.0" stroke="#f0583c" stroke-width="1.8" fill="none" stroke-linecap="round"/>
<path d="M225.8,296.0 L225.8,330.0" stroke="#5b8fe0" stroke-width="2" fill="none"/><path d="M225.8,305.0 C225.8,301.0 222.8,298.0 217.3,297.0" stroke="#5b8fe0" stroke-width="1.8" fill="none" stroke-linecap="round"/><path d="M225.8,311.5 C225.8,307.5 222.8,304.5 217.3,303.5" stroke="#5b8fe0" stroke-width="1.8" fill="none" stroke-linecap="round"/><path d="M225.8,318.0 C225.8,314.0 222.8,311.0 217.3,310.0" stroke="#5b8fe0" stroke-width="1.8" fill="none" stroke-linecap="round"/><path d="M225.8,324.5 C225.8,320.5 222.8,317.5 217.3,316.5" stroke="#5b8fe0" stroke-width="1.8" fill="none" stroke-linecap="round"/><path d="M225.8,331.0 C225.8,327.0 222.8,324.0 217.3,323.0" stroke="#5b8fe0" stroke-width="1.8" fill="none" stroke-linecap="round"/>
<path d="M260,338 L260,365" stroke="#f0583c" stroke-width="2" fill="none"/>
<path d="M260,346 C262,341 265,339 268,337" stroke="#f0583c" stroke-width="1.8" fill="none" stroke-linecap="round"/>
<path d="M260,353 C262,348 265,346 268,344" stroke="#f0583c" stroke-width="1.8" fill="none" stroke-linecap="round"/>
<path d="M260,360 C262,355 265,353 268,351" stroke="#f0583c" stroke-width="1.8" fill="none" stroke-linecap="round"/>
<path d="M260,362 C268,359 278,356 281,352 C283,349 284,346 284.5,343" stroke="#f0583c" stroke-width="1.8" fill="none"/>
<path d="M312.5,337 L312.5,365" stroke="#5b8fe0" stroke-width="2" fill="none"/>
<path d="M312.5,346 C310.5,341 307.5,339 304.5,337" stroke="#5b8fe0" stroke-width="1.8" fill="none" stroke-linecap="round"/>
<path d="M312.5,353 C310.5,348 307.5,346 304.5,344" stroke="#5b8fe0" stroke-width="1.8" fill="none" stroke-linecap="round"/>
<path d="M312.5,360 C310.5,355 307.5,353 304.5,351" stroke="#5b8fe0" stroke-width="1.8" fill="none" stroke-linecap="round"/>
<path d="M285,343 C286,349 290,354 297,357 C303,359 309,360 312.5,361" stroke="#5b8fe0" stroke-width="1.8" fill="none"/>
<rect x="187.3" y="297.6" width="30" height="29" rx="8" fill="#f4f9f8" stroke="#a8d0cb" stroke-width="1"/>
<path d="M201.50,297.50 L199.00,299.40 L198.30,300.03 L197.29,300.21 L196.39,300.43 L195.58,300.70 L194.84,301.00 L194.16,301.34 L193.54,301.72 L192.98,302.14 L192.47,302.60 L192.01,303.10 L191.60,303.63 L191.25,304.20 L190.93,304.82 L190.67,305.47 L190.45,306.17 L190.28,306.91 L190.15,307.72 L190.07,308.60 L190.03,309.58 L190.03,310.75 L190.08,312.86 L190.17,314.24 L190.30,315.26 L190.47,316.12 L190.68,316.89 L190.94,317.58 L191.23,318.21 L191.56,318.79 L191.93,319.31 L192.33,319.78 L192.77,320.21 L193.25,320.60 L193.77,320.94 L194.32,321.25 L194.91,321.51 L195.53,321.73 L196.20,321.92 L196.92,322.07 L197.69,322.17 L198.52,322.25 L199.44,322.28 L200.52,322.28 L202.33,322.24 L203.92,322.17 L204.94,322.06 L205.81,321.92 L206.56,321.75 L207.24,321.54 L207.85,321.30 L208.41,321.03 L208.92,320.73 L209.38,320.40 L209.80,320.04 L210.17,319.65 L210.51,319.23 L210.80,318.78 L211.06,318.29 L211.27,317.78 L211.45,317.24 L211.59,316.66 L211.70,316.04 L211.77,315.37 L211.80,314.63 L211.80,313.78 L211.77,312.65 L211.70,311.02 L211.60,310.13 L211.47,309.41 L211.30,308.78 L211.10,308.22 L210.88,307.71 L210.62,307.25 L210.34,306.84 L210.02,306.46 L209.68,306.12 L209.31,305.81 L208.92,305.54 L208.49,305.30 L208.04,305.10 L207.56,304.92 L207.05,304.78 L206.51,304.66 L205.93,304.58 L205.31,304.52 L204.63,304.49 L203.87,304.50 L202.91,304.52 L201.32,304.58 L200.44,304.66 L199.74,304.77 L199.14,304.90 L198.61,305.06 L198.13,305.25 L197.70,305.45 L197.31,305.68 L196.96,305.93 L196.64,306.20 L196.36,306.50 L196.11,306.81 L195.89,307.15 L195.70,307.51 L195.54,307.89 L195.40,308.29 L195.30,308.71 L195.23,309.16 L195.18,309.65 L195.16,310.17 L195.16,310.75 L195.19,311.45 L195.25,312.69 L195.32,313.44 L195.43,314.00 L195.55,314.48 L195.70,314.90 L195.87,315.28 L196.06,315.61 L196.27,315.92 L196.50,316.19 L196.75,316.44 L197.02,316.65 L197.30,316.85 L197.61,317.01 L197.93,317.16 L198.27,317.27 L198.63,317.37 L199.01,317.45 L199.41,317.50 L199.84,317.53 L200.30,317.54 L200.80,317.53 L201.39,317.51 L202.42,317.46 L203.16,317.39 L203.68,317.31 L204.11,317.21 L204.48,317.09 L204.81,316.96 L205.11,316.81 L205.37,316.65 L205.61,316.47 L205.81,316.28 L206.00,316.08 L206.16,315.86 L206.30,315.63 L206.42,315.39 L206.51,315.13 L206.59,314.86 L206.64,314.58 L206.68,314.29 L206.70,313.98 L206.70,313.65 L206.68,313.29 L206.65,312.88 L206.60,312.31 L206.54,311.61 L206.46,311.22 L206.37,310.91 L206.26,310.64 L206.14,310.41 L206.01,310.20 L205.86,310.02" fill="none" stroke="#a3ccc7" stroke-width="5.6" stroke-linecap="round" stroke-linejoin="round"/>
<path d="M201.50,297.50 L199.00,299.40 L198.30,300.03 L197.29,300.21 L196.39,300.43 L195.58,300.70 L194.84,301.00 L194.16,301.34 L193.54,301.72 L192.98,302.14 L192.47,302.60 L192.01,303.10 L191.60,303.63 L191.25,304.20 L190.93,304.82 L190.67,305.47 L190.45,306.17 L190.28,306.91 L190.15,307.72 L190.07,308.60 L190.03,309.58 L190.03,310.75 L190.08,312.86 L190.17,314.24 L190.30,315.26 L190.47,316.12 L190.68,316.89 L190.94,317.58 L191.23,318.21 L191.56,318.79 L191.93,319.31 L192.33,319.78 L192.77,320.21 L193.25,320.60 L193.77,320.94 L194.32,321.25 L194.91,321.51 L195.53,321.73 L196.20,321.92 L196.92,322.07 L197.69,322.17 L198.52,322.25 L199.44,322.28 L200.52,322.28 L202.33,322.24 L203.92,322.17 L204.94,322.06 L205.81,321.92 L206.56,321.75 L207.24,321.54 L207.85,321.30 L208.41,321.03 L208.92,320.73 L209.38,320.40 L209.80,320.04 L210.17,319.65 L210.51,319.23 L210.80,318.78 L211.06,318.29 L211.27,317.78 L211.45,317.24 L211.59,316.66 L211.70,316.04 L211.77,315.37 L211.80,314.63 L211.80,313.78 L211.77,312.65 L211.70,311.02 L211.60,310.13 L211.47,309.41 L211.30,308.78 L211.10,308.22 L210.88,307.71 L210.62,307.25 L210.34,306.84 L210.02,306.46 L209.68,306.12 L209.31,305.81 L208.92,305.54 L208.49,305.30 L208.04,305.10 L207.56,304.92 L207.05,304.78 L206.51,304.66 L205.93,304.58 L205.31,304.52 L204.63,304.49 L203.87,304.50 L202.91,304.52 L201.32,304.58 L200.44,304.66 L199.74,304.77 L199.14,304.90 L198.61,305.06 L198.13,305.25 L197.70,305.45 L197.31,305.68 L196.96,305.93 L196.64,306.20 L196.36,306.50 L196.11,306.81 L195.89,307.15 L195.70,307.51 L195.54,307.89 L195.40,308.29 L195.30,308.71 L195.23,309.16 L195.18,309.65 L195.16,310.17 L195.16,310.75 L195.19,311.45 L195.25,312.69 L195.32,313.44 L195.43,314.00 L195.55,314.48 L195.70,314.90 L195.87,315.28 L196.06,315.61 L196.27,315.92 L196.50,316.19 L196.75,316.44 L197.02,316.65 L197.30,316.85 L197.61,317.01 L197.93,317.16 L198.27,317.27 L198.63,317.37 L199.01,317.45 L199.41,317.50 L199.84,317.53 L200.30,317.54 L200.80,317.53 L201.39,317.51 L202.42,317.46 L203.16,317.39 L203.68,317.31 L204.11,317.21 L204.48,317.09 L204.81,316.96 L205.11,316.81 L205.37,316.65 L205.61,316.47 L205.81,316.28 L206.00,316.08 L206.16,315.86 L206.30,315.63 L206.42,315.39 L206.51,315.13 L206.59,314.86 L206.64,314.58 L206.68,314.29 L206.70,313.98 L206.70,313.65 L206.68,313.29 L206.65,312.88 L206.60,312.31 L206.54,311.61 L206.46,311.22 L206.37,310.91 L206.26,310.64 L206.14,310.41 L206.01,310.20 L205.86,310.02" fill="none" stroke="#f7fbfb" stroke-width="4.0" stroke-linecap="round" stroke-linejoin="round"/>
<circle cx="202.5" cy="318.7" r="2.3" fill="#3d4146"/>
<path d="M363.2,81.0 C361.0,85.0 354.5,96.3 350.0,105.0 C345.5,113.7 341.0,121.8 336.2,133.0 C331.4,144.2 325.5,158.8 321.0,172.0 C316.5,185.2 312.2,200.7 309.0,212.0 C305.8,223.3 303.8,231.7 301.8,240.0 C299.8,248.3 298.5,255.3 297.0,262.0 C295.5,268.7 294.1,275.3 293.0,280.0 C291.9,284.7 291.3,285.8 290.3,290.0 C289.3,294.2 288.2,299.7 287.0,305.0 C285.8,310.3 284.2,317.3 283.0,322.0 C281.8,326.7 280.2,330.0 279.5,333.0 C278.8,336.0 278.7,338.1 279.0,340.0 C279.3,341.9 280.6,343.9 281.5,344.5 C282.4,345.1 283.8,343.7 284.3,343.5 L284.6,341.5 L285.0,343.5 C285.4,343.7 286.5,345.1 287.5,344.8 C288.5,344.6 289.8,343.6 291.0,342.0 C292.2,340.4 293.6,338.3 294.5,335.0 C295.4,331.7 295.9,327.0 296.3,322.0 C296.7,317.0 296.6,310.3 297.0,305.0 C297.4,299.7 298.4,294.2 299.0,290.0 C299.6,285.8 299.8,284.7 300.5,280.0 C301.2,275.3 301.8,268.7 303.0,262.0 C304.2,255.3 306.0,248.2 307.8,240.0 C309.6,231.8 311.1,224.0 314.0,213.0 C316.9,202.0 320.8,187.2 325.0,174.0 C329.2,160.8 334.7,145.3 339.2,134.0 C343.7,122.7 348.0,114.8 352.2,106.0 C356.4,97.2 362.5,85.5 364.6,81.4 Z" fill="#4c3f4e"/>
<path d="M428,133 L496,95 L496,410 L428,456 Z" fill="#f8b880"/>
<path d="M428,133 L496,95 L496,182.5 L496.0,186.5 C495.2,186.2 492.5,184.9 491.0,184.6 C489.5,184.3 488.4,184.3 487.0,184.5 C485.6,184.7 484.2,185.1 482.8,185.8 C481.4,186.5 479.9,187.4 478.5,188.7 C477.1,190.0 476.0,191.5 474.7,193.4 C473.4,195.3 471.9,197.9 470.5,200.2 C469.1,202.5 467.9,205.3 466.5,207.4 C465.1,209.5 463.6,211.3 462.0,212.7 C460.4,214.0 458.7,214.9 457.0,215.5 C455.3,216.1 453.8,216.2 452.0,216.2 C450.2,216.2 447.8,216.0 446.0,215.7 C444.2,215.4 442.7,214.7 441.0,214.2 C439.3,213.7 437.5,213.0 436.0,212.9 C434.5,212.8 433.3,213.3 432.0,213.8 C430.7,214.3 428.7,215.5 428.0,215.8 Z" fill="#fff"/>
<path d="M428.3,152.3 L432.3,150.1 L432.3,154.1 L428.3,156.3 Z" fill="#f5b5b9"/><path d="M432.8,149.8 L436.8,147.6 L436.8,151.6 L432.8,153.8 Z" fill="#f5b5b9"/><path d="M437.3,147.3 L441.3,145.1 L441.3,149.1 L437.3,151.3 Z" fill="#f5b5b9"/><path d="M441.9,144.7 L445.9,142.5 L445.9,146.5 L441.9,148.7 Z" fill="#f5b5b9"/><path d="M446.4,142.2 L450.4,140.0 L450.4,144.0 L446.4,146.2 Z" fill="#f5b5b9"/><path d="M450.9,139.7 L454.9,137.5 L454.9,141.5 L450.9,143.7 Z" fill="#f5b5b9"/><path d="M455.5,137.1 L459.5,134.9 L459.5,138.9 L455.5,141.1 Z" fill="#f5b5b9"/><path d="M460.0,134.6 L464.0,132.4 L464.0,136.4 L460.0,138.6 Z" fill="#f5b5b9"/><path d="M464.5,132.1 L468.5,129.9 L468.5,133.9 L464.5,136.1 Z" fill="#f5b5b9"/><path d="M469.1,129.5 L473.1,127.3 L473.1,131.3 L469.1,133.5 Z" fill="#f5b5b9"/><path d="M473.6,127.0 L477.6,124.8 L477.6,128.8 L473.6,131.0 Z" fill="#f5b5b9"/><path d="M478.1,124.5 L482.1,122.3 L482.1,126.3 L478.1,128.5 Z" fill="#f5b5b9"/><path d="M482.7,121.9 L486.7,119.7 L486.7,123.7 L482.7,125.9 Z" fill="#f5b5b9"/><path d="M487.2,119.4 L491.2,117.2 L491.2,121.2 L487.2,123.4 Z" fill="#f5b5b9"/><path d="M491.7,116.9 L495.7,114.7 L495.7,118.7 L491.7,120.9 Z" fill="#f5b5b9"/><path d="M428.3,157.3 L432.3,155.1 L432.3,161.6 L428.3,163.8 Z" fill="#f5b5b9"/><path d="M432.8,154.8 L436.8,152.6 L436.8,159.1 L432.8,161.3 Z" fill="#f5b5b9"/><path d="M437.3,152.3 L441.3,150.1 L441.3,156.7 L437.3,158.8 Z" fill="#f5b5b9"/><path d="M441.9,149.7 L445.9,147.5 L445.9,154.3 L441.9,156.4 Z" fill="#f5b5b9"/><path d="M446.4,147.2 L450.4,145.0 L450.4,151.8 L446.4,154.0 Z" fill="#f5b5b9"/><path d="M450.9,144.7 L454.9,142.5 L454.9,149.4 L450.9,151.5 Z" fill="#f5b5b9"/><path d="M455.5,142.1 L459.5,139.9 L459.5,146.9 L455.5,149.1 Z" fill="#f5b5b9"/><path d="M460.0,139.6 L464.0,137.4 L464.0,144.3 L460.0,146.6 Z" fill="#f5b5b9"/><path d="M464.5,137.1 L468.5,134.9 L468.5,141.6 L464.5,144.0 Z" fill="#f5b5b9"/><path d="M469.1,134.5 L473.1,132.3 L473.1,138.9 L469.1,141.3 Z" fill="#f5b5b9"/><path d="M473.6,132.0 L477.6,129.8 L477.6,136.3 L473.6,138.6 Z" fill="#f5b5b9"/><path d="M478.1,129.5 L482.1,127.3 L482.1,133.7 L478.1,136.0 Z" fill="#f5b5b9"/><path d="M482.7,126.9 L486.7,124.7 L486.7,131.2 L482.7,133.4 Z" fill="#f5b5b9"/><path d="M487.2,124.4 L491.2,122.2 L491.2,128.8 L487.2,130.9 Z" fill="#f5b5b9"/><path d="M491.7,121.9 L495.7,119.7 L495.7,126.4 L491.7,128.5 Z" fill="#f5b5b9"/><path d="M428.3,164.8 L432.3,162.6 L432.3,170.8 L428.3,173.0 Z" fill="#f5b5b9"/><path d="M432.8,162.3 L436.8,160.1 L436.8,168.5 L432.8,170.5 Z" fill="#f5b5b9"/><path d="M437.3,159.8 L441.3,157.7 L441.3,166.4 L437.3,168.3 Z" fill="#f5b5b9"/><path d="M441.9,157.4 L445.9,155.3 L445.9,164.4 L441.9,166.2 Z" fill="#f5b5b9"/><path d="M446.4,155.0 L450.4,152.8 L450.4,162.2 L446.4,164.1 Z" fill="#f5b5b9"/><path d="M450.9,152.5 L454.9,150.4 L454.9,160.0 L450.9,161.9 Z" fill="#f5b5b9"/><path d="M455.5,150.1 L459.5,147.9 L459.5,157.5 L455.5,159.7 Z" fill="#f5b5b9"/><path d="M460.0,147.6 L464.0,145.3 L464.0,154.9 L460.0,157.2 Z" fill="#f5b5b9"/><path d="M464.5,145.0 L468.5,142.6 L468.5,151.8 L464.5,154.5 Z" fill="#f5b5b9"/><path d="M469.1,142.3 L473.1,139.9 L473.1,148.6 L469.1,151.4 Z" fill="#f5b5b9"/><path d="M473.6,139.6 L477.6,137.3 L477.6,145.6 L473.6,148.3 Z" fill="#f5b5b9"/><path d="M478.1,137.0 L482.1,134.7 L482.1,143.0 L478.1,145.3 Z" fill="#f5b5b9"/><path d="M482.7,134.4 L486.7,132.2 L486.7,140.6 L482.7,142.7 Z" fill="#f5b5b9"/><path d="M487.2,131.9 L491.2,129.8 L491.2,138.4 L487.2,140.3 Z" fill="#f5b5b9"/><path d="M491.7,129.5 L495.7,127.4 L495.7,136.3 L491.7,138.1 Z" fill="#f5b5b9"/><path d="M428.3,174.0 L432.3,171.8 L432.3,181.5 L428.3,183.6 Z" fill="#f5b5b9"/><path d="M432.8,171.5 L436.8,169.5 L436.8,180.1 L432.8,181.3 Z" fill="#f5b5b9"/><path d="M437.3,169.3 L441.3,167.4 L441.3,179.8 L437.3,180.0 Z" fill="#f5b5b9"/><path d="M441.9,167.2 L445.9,165.4 L445.9,179.6 L441.9,179.8 Z" fill="#f5b5b9"/><path d="M446.4,165.1 L450.4,163.2 L450.4,178.9 L446.4,179.6 Z" fill="#f5b5b9"/><path d="M450.9,162.9 L454.9,161.0 L454.9,177.8 L450.9,178.8 Z" fill="#f5b5b9"/><path d="M455.5,160.7 L459.5,158.5 L459.5,175.8 L455.5,177.6 Z" fill="#f5b5b9"/><path d="M460.0,158.2 L464.0,155.9 L464.0,172.6 L460.0,175.5 Z" fill="#f5b5b9"/><path d="M464.5,155.5 L468.5,152.8 L468.5,167.5 L464.5,172.1 Z" fill="#f5b5b9"/><path d="M469.1,152.4 L473.1,149.6 L473.1,161.7 L469.1,166.7 Z" fill="#f5b5b9"/><path d="M473.6,149.3 L477.6,146.6 L477.6,156.9 L473.6,161.1 Z" fill="#f5b5b9"/><path d="M478.1,146.3 L482.1,144.0 L482.1,153.8 L478.1,156.4 Z" fill="#f5b5b9"/><path d="M482.7,143.7 L486.7,141.6 L486.7,151.8 L482.7,153.5 Z" fill="#f5b5b9"/><path d="M487.2,141.3 L491.2,139.4 L491.2,150.9 L487.2,151.7 Z" fill="#f5b5b9"/><path d="M491.7,139.1 L495.7,137.3 L495.7,150.9 L491.7,150.9 Z" fill="#f5b5b9"/><path d="M428.3,184.6 L432.3,182.5 L432.3,193.4 L428.3,195.4 Z" fill="#f5b5b9"/><path d="M432.8,182.3 L436.8,181.1 L436.8,192.7 L432.8,193.2 Z" fill="#f5b5b9"/><path d="M437.3,181.0 L441.3,180.8 L441.3,194.0 L437.3,192.8 Z" fill="#f5b5b9"/><path d="M441.9,180.8 L445.9,180.6 L445.9,195.4 L441.9,194.2 Z" fill="#f5b5b9"/><path d="M446.4,180.6 L450.4,179.9 L450.4,195.9 L446.4,195.5 Z" fill="#f5b5b9"/><path d="M450.9,179.8 L454.9,178.8 L454.9,195.7 L450.9,195.9 Z" fill="#f5b5b9"/><path d="M455.5,178.6 L459.5,176.8 L459.5,194.1 L455.5,195.6 Z" fill="#f5b5b9"/><path d="M460.0,176.5 L464.0,173.6 L464.0,190.4 L460.0,193.8 Z" fill="#f5b5b9"/><path d="M464.5,173.1 L468.5,168.5 L468.5,183.6 L464.5,189.8 Z" fill="#f5b5b9"/><path d="M469.1,167.7 L473.1,162.7 L473.1,175.6 L469.1,182.5 Z" fill="#f5b5b9"/><path d="M473.6,162.1 L477.6,157.9 L477.6,169.3 L473.6,174.7 Z" fill="#f5b5b9"/><path d="M478.1,157.4 L482.1,154.8 L482.1,165.8 L478.1,168.8 Z" fill="#f5b5b9"/><path d="M482.7,154.5 L486.7,152.8 L486.7,164.3 L482.7,165.6 Z" fill="#f5b5b9"/><path d="M487.2,152.7 L491.2,151.9 L491.2,164.4 L487.2,164.2 Z" fill="#f5b5b9"/><path d="M491.7,151.9 L495.7,151.9 L495.7,166.1 L491.7,164.5 Z" fill="#f5b5b9"/><path d="M428.3,196.4 L432.3,194.4 L432.3,206.7 L428.3,208.7 Z" fill="#f5b5b9"/><path d="M432.8,194.2 L436.8,193.7 L436.8,206.0 L432.8,206.5 Z" fill="#f5b5b9"/><path d="M437.3,193.8 L441.3,195.0 L441.3,207.3 L437.3,206.1 Z" fill="#f5b5b9"/><path d="M441.9,195.2 L445.9,196.4 L445.9,208.7 L441.9,207.5 Z" fill="#f5b5b9"/><path d="M446.4,196.5 L450.4,196.9 L450.4,209.2 L446.4,208.8 Z" fill="#f5b5b9"/><path d="M450.9,196.9 L454.9,196.7 L454.9,209.0 L450.9,209.2 Z" fill="#f5b5b9"/><path d="M455.5,196.6 L459.5,195.1 L459.5,207.4 L455.5,208.9 Z" fill="#f5b5b9"/><path d="M460.0,194.8 L464.0,191.4 L464.0,203.7 L460.0,207.1 Z" fill="#f5b5b9"/><path d="M464.5,190.8 L468.5,184.6 L468.5,196.9 L464.5,203.1 Z" fill="#f5b5b9"/><path d="M469.1,183.5 L473.1,176.6 L473.1,188.9 L469.1,195.8 Z" fill="#f5b5b9"/><path d="M473.6,175.7 L477.6,170.3 L477.6,182.6 L473.6,188.0 Z" fill="#f5b5b9"/><path d="M478.1,169.8 L482.1,166.8 L482.1,179.1 L478.1,182.1 Z" fill="#f5b5b9"/><path d="M482.7,166.6 L486.7,165.3 L486.7,177.6 L482.7,178.9 Z" fill="#f5b5b9"/><path d="M487.2,165.2 L491.2,165.4 L491.2,177.7 L487.2,177.5 Z" fill="#f5b5b9"/><path d="M491.7,165.5 L495.7,167.1 L495.7,179.4 L491.7,177.8 Z" fill="#f5b5b9"/>
<path d="M428,133.4 L496,95.4" stroke="#f0a566" stroke-width="1.3"/>
<path d="M428,136.7 L496,98.7" stroke="#f0a566" stroke-width="1.3"/>
<path d="M428,140.0 L496,102.0" stroke="#f0a566" stroke-width="1.3"/>
<path d="M428,143.3 L496,105.3" stroke="#f0a566" stroke-width="1.3"/>
<path d="M428,146.6 L496,108.6" stroke="#f0a566" stroke-width="1.3"/>
<path d="M428,149.9 L496,111.9" stroke="#f0a566" stroke-width="1.3"/>
<path d="M428.0,212.8 C428.7,212.5 430.7,211.3 432.0,210.8 C433.3,210.3 434.5,209.8 436.0,209.9 C437.5,210.0 439.3,210.7 441.0,211.2 C442.7,211.7 444.2,212.4 446.0,212.7 C447.8,213.0 450.2,213.2 452.0,213.2 C453.8,213.2 455.3,213.1 457.0,212.5 C458.7,211.9 460.4,211.0 462.0,209.7 C463.6,208.3 465.1,206.5 466.5,204.4 C467.9,202.3 469.1,199.5 470.5,197.2 C471.9,194.9 473.4,192.3 474.7,190.4 C476.0,188.5 477.1,187.0 478.5,185.7 C479.9,184.4 481.4,183.5 482.8,182.8 C484.2,182.1 485.6,181.7 487.0,181.5 C488.4,181.3 489.5,181.3 491.0,181.6 C492.5,181.9 495.2,183.2 496.0,183.5" stroke="#fff" stroke-width="7.6" fill="none"/>
<path d="M428.0,212.8 C428.7,212.5 430.7,211.3 432.0,210.8 C433.3,210.3 434.5,209.8 436.0,209.9 C437.5,210.0 439.3,210.7 441.0,211.2 C442.7,211.7 444.2,212.4 446.0,212.7 C447.8,213.0 450.2,213.2 452.0,213.2 C453.8,213.2 455.3,213.1 457.0,212.5 C458.7,211.9 460.4,211.0 462.0,209.7 C463.6,208.3 465.1,206.5 466.5,204.4 C467.9,202.3 469.1,199.5 470.5,197.2 C471.9,194.9 473.4,192.3 474.7,190.4 C476.0,188.5 477.1,187.0 478.5,185.7 C479.9,184.4 481.4,183.5 482.8,182.8 C484.2,182.1 485.6,181.7 487.0,181.5 C488.4,181.3 489.5,181.3 491.0,181.6 C492.5,181.9 495.2,183.2 496.0,183.5" stroke="#f07b87" stroke-width="4.4" fill="none"/>
<path d="M428.0,212.8 C428.7,212.5 430.7,211.3 432.0,210.8 C433.3,210.3 434.5,209.8 436.0,209.9 C437.5,210.0 439.3,210.7 441.0,211.2 C442.7,211.7 444.2,212.4 446.0,212.7 C447.8,213.0 450.2,213.2 452.0,213.2 C453.8,213.2 455.3,213.1 457.0,212.5 C458.7,211.9 460.4,211.0 462.0,209.7 C463.6,208.3 465.1,206.5 466.5,204.4 C467.9,202.3 469.1,199.5 470.5,197.2 C471.9,194.9 473.4,192.3 474.7,190.4 C476.0,188.5 477.1,187.0 478.5,185.7 C479.9,184.4 481.4,183.5 482.8,182.8 C484.2,182.1 485.6,181.7 487.0,181.5 C488.4,181.3 489.5,181.3 491.0,181.6 C492.5,181.9 495.2,183.2 496.0,183.5" stroke="#f7a9b0" stroke-width="1.1" fill="none" stroke-dasharray="1 1.6"/>
<path d="M428,406 Q430.2,399.3 434.8,401.9 Q437.0,395.2 441.6,397.7 Q443.8,391.0 448.4,393.6 Q450.6,386.9 455.2,389.4 Q457.4,382.7 462.0,385.2 Q464.2,378.6 468.8,381.1 Q471.0,374.4 475.6,376.9 Q477.8,370.3 482.4,372.8 Q484.6,366.1 489.2,368.6 Q491.4,362.0 496.0,364.5 L496,386 L428,430.5 Z" fill="#f9d3af"/>
<path d="M428,430.5 C445,421 470,404 496,386 L496,410 L428,456.5 Z" fill="#e8879b"/>
<path d="M428,434.0 C445,424.5 470,407.3 496,389.3" stroke="#ed9aab" stroke-width="1.1" fill="none"/>
<path d="M428,438.3 C445,428.8 470,411.4 496,393.3" stroke="#ed9aab" stroke-width="1.1" fill="none"/>
<path d="M428,442.6 C445,433.1 470,415.5 496,397.3" stroke="#ed9aab" stroke-width="1.1" fill="none"/>
<path d="M428,446.9 C445,437.4 470,419.6 496,401.3" stroke="#ed9aab" stroke-width="1.1" fill="none"/>
<path d="M428,451.2 C445,441.7 470,423.7 496,405.3" stroke="#ed9aab" stroke-width="1.1" fill="none"/>
<path d="M108,133.5 L428,133.5 L496,95 L178,94 C175,95 173,95 170.7,96 C164,99.5 158,102 152,105.3 C145,110 138,114.5 130.7,119.3 C123,124 115,129 108,133.5 Z" fill="#f8c8b1"/>
<g clip-path="url(#topclip)"><path d="M129.8,99.5 C153.2,88.6 180.4,86.1 207.6,97.0 C180.4,98.5 153.2,101.0 129.8,99.5 Z" fill="url(#dome)"/><path d="M184.3,99.5 C209.4,88.8 238.7,86.3 268.0,97.0 C238.7,98.5 209.4,101.0 184.3,99.5 Z" fill="url(#dome)"/><path d="M242.9,99.5 C267.4,88.1 296.0,85.6 324.5,97.0 C296.0,98.5 267.4,101.0 242.9,99.5 Z" fill="url(#dome)"/><path d="M300.1,99.5 C322.0,87.7 347.5,85.2 373.1,97.0 C347.5,98.5 322.0,101.0 300.1,99.5 Z" fill="url(#dome)"/><path d="M351.2,99.5 C373.0,87.9 398.4,85.4 423.9,97.0 C398.4,98.5 373.0,101.0 351.2,99.5 Z" fill="url(#dome)"/><path d="M402.1,99.5 C424.0,88.8 449.7,86.3 475.3,97.0 C449.7,98.5 424.0,101.0 402.1,99.5 Z" fill="url(#dome)"/><path d="M453.3,99.5 C477.2,86.9 505.1,84.4 533.0,97.0 C505.1,98.5 477.2,101.0 453.3,99.5 Z" fill="url(#dome)"/><path d="M64.6,107.3 C86.9,96.2 112.9,93.7 138.9,104.8 C112.9,106.3 86.9,108.8 64.6,107.3 Z" fill="url(#dome)"/><path d="M116.6,107.3 C141.6,94.4 170.7,91.9 199.9,104.8 C170.7,106.3 141.6,108.8 116.6,107.3 Z" fill="url(#dome)"/><path d="M174.9,107.3 C199.6,95.8 228.5,93.3 257.3,104.8 C228.5,106.3 199.6,108.8 174.9,107.3 Z" fill="url(#dome)"/><path d="M232.6,107.3 C259.4,96.7 290.8,94.2 322.1,104.8 C290.8,106.3 259.4,108.8 232.6,107.3 Z" fill="url(#dome)"/><path d="M295.3,107.3 C321.5,96.1 352.1,93.6 382.7,104.8 C352.1,106.3 321.5,108.8 295.3,107.3 Z" fill="url(#dome)"/><path d="M356.5,107.3 C378.9,96.5 405.0,94.0 431.1,104.8 C405.0,106.3 378.9,108.8 356.5,107.3 Z" fill="url(#dome)"/><path d="M408.7,107.3 C432.0,94.8 459.1,92.3 486.3,104.8 C459.1,106.3 432.0,108.8 408.7,107.3 Z" fill="url(#dome)"/><path d="M463.0,107.3 C485.6,95.3 511.9,92.8 538.2,104.8 C511.9,106.3 485.6,108.8 463.0,107.3 Z" fill="url(#dome)"/><path d="M92.5,115.1 C117.5,103.7 146.7,101.2 176.0,112.6 C146.7,114.1 117.5,116.6 92.5,115.1 Z" fill="url(#dome)"/><path d="M150.9,115.1 C175.5,104.4 204.1,101.9 232.8,112.6 C204.1,114.1 175.5,116.6 150.9,115.1 Z" fill="url(#dome)"/><path d="M208.2,115.1 C230.1,104.1 255.7,101.6 281.3,112.6 C255.7,114.1 230.1,116.6 208.2,115.1 Z" fill="url(#dome)"/><path d="M259.4,115.1 C284.6,103.5 314.1,101.0 343.6,112.6 C314.1,114.1 284.6,116.6 259.4,115.1 Z" fill="url(#dome)"/><path d="M318.3,115.1 C341.6,103.1 368.8,100.6 396.0,112.6 C368.8,114.1 341.6,116.6 318.3,115.1 Z" fill="url(#dome)"/><path d="M372.7,115.1 C396.7,103.9 424.8,101.4 452.8,112.6 C424.8,114.1 396.7,116.6 372.7,115.1 Z" fill="url(#dome)"/><path d="M428.8,115.1 C454.7,102.9 484.9,100.4 515.1,112.6 C484.9,114.1 454.7,116.6 428.8,115.1 Z" fill="url(#dome)"/><path d="M489.2,115.1 C512.1,103.2 538.9,100.7 565.6,112.6 C538.9,114.1 512.1,116.6 489.2,115.1 Z" fill="url(#dome)"/><path d="M44.3,122.9 C68.7,110.2 97.2,107.7 125.7,120.4 C97.2,121.9 68.7,124.4 44.3,122.9 Z" fill="url(#dome)"/><path d="M101.3,122.9 C126.8,111.7 156.6,109.2 186.4,120.4 C156.6,121.9 126.8,124.4 101.3,122.9 Z" fill="url(#dome)"/><path d="M160.9,122.9 C187.8,112.1 219.1,109.6 250.5,120.4 C219.1,121.9 187.8,124.4 160.9,122.9 Z" fill="url(#dome)"/><path d="M223.6,122.9 C247.5,110.5 275.3,108.0 303.2,120.4 C275.3,121.9 247.5,124.4 223.6,122.9 Z" fill="url(#dome)"/><path d="M279.3,122.9 C301.7,111.2 327.9,108.7 354.0,120.4 C327.9,121.9 301.7,124.4 279.3,122.9 Z" fill="url(#dome)"/><path d="M331.6,122.9 C353.4,110.7 378.9,108.2 404.3,120.4 C378.9,121.9 353.4,124.4 331.6,122.9 Z" fill="url(#dome)"/><path d="M382.5,122.9 C408.2,111.0 438.3,108.5 468.3,120.4 C438.3,121.9 408.2,124.4 382.5,122.9 Z" fill="url(#dome)"/><path d="M442.5,122.9 C468.9,111.6 499.6,109.1 530.3,120.4 C499.6,121.9 468.9,124.4 442.5,122.9 Z" fill="url(#dome)"/><path d="M504.0,122.9 C529.3,110.9 558.9,108.4 588.5,120.4 C558.9,121.9 529.3,124.4 504.0,122.9 Z" fill="url(#dome)"/><path d="M72.1,130.7 C96.8,119.1 125.7,116.6 154.5,128.2 C125.7,129.7 96.8,132.2 72.1,130.7 Z" fill="url(#dome)"/><path d="M129.8,130.7 C155.9,117.8 186.4,115.3 216.9,128.2 C186.4,129.7 155.9,132.2 129.8,130.7 Z" fill="url(#dome)"/><path d="M190.8,130.7 C214.9,118.5 243.1,116.0 271.3,128.2 C243.1,129.7 214.9,132.2 190.8,130.7 Z" fill="url(#dome)"/><path d="M247.2,130.7 C269.1,118.4 294.7,115.9 320.2,128.2 C294.7,129.7 269.1,132.2 247.2,130.7 Z" fill="url(#dome)"/><path d="M298.3,130.7 C323.4,117.7 352.7,115.2 382.0,128.2 C352.7,129.7 323.4,132.2 298.3,130.7 Z" fill="url(#dome)"/><path d="M356.9,130.7 C382.9,119.5 413.3,117.0 443.7,128.2 C413.3,129.7 382.9,132.2 356.9,130.7 Z" fill="url(#dome)"/><path d="M417.6,130.7 C441.3,118.5 468.9,116.0 496.6,128.2 C468.9,129.7 441.3,132.2 417.6,130.7 Z" fill="url(#dome)"/><path d="M472.9,130.7 C494.6,119.0 520.0,116.5 545.3,128.2 C520.0,129.7 494.6,132.2 472.9,130.7 Z" fill="url(#dome)"/><path d="M6.9,138.5 C29.4,127.7 55.7,125.2 81.9,136.0 C55.7,137.5 29.4,140.0 6.9,138.5 Z" fill="url(#dome)"/><path d="M59.4,138.5 C81.3,126.1 106.9,123.6 132.5,136.0 C106.9,137.5 81.3,140.0 59.4,138.5 Z" fill="url(#dome)"/><path d="M110.6,138.5 C132.9,127.4 158.9,124.9 184.9,136.0 C158.9,137.5 132.9,140.0 110.6,138.5 Z" fill="url(#dome)"/><path d="M162.6,138.5 C186.3,125.8 214.0,123.3 241.6,136.0 C214.0,137.5 186.3,140.0 162.6,138.5 Z" fill="url(#dome)"/><path d="M217.9,138.5 C240.0,126.9 265.7,124.4 291.4,136.0 C265.7,137.5 240.0,140.0 217.9,138.5 Z" fill="url(#dome)"/><path d="M269.3,138.5 C293.9,125.8 322.6,123.3 351.2,136.0 C322.6,137.5 293.9,140.0 269.3,138.5 Z" fill="url(#dome)"/><path d="M326.7,138.5 C352.7,125.8 383.0,123.3 413.4,136.0 C383.0,137.5 352.7,140.0 326.7,138.5 Z" fill="url(#dome)"/><path d="M387.4,138.5 C410.5,127.0 437.4,124.5 464.4,136.0 C437.4,137.5 410.5,140.0 387.4,138.5 Z" fill="url(#dome)"/><path d="M441.3,138.5 C464.8,125.8 492.3,123.3 519.8,136.0 C492.3,137.5 464.8,140.0 441.3,138.5 Z" fill="url(#dome)"/><path d="M496.2,138.5 C523.0,127.6 554.2,125.1 585.5,136.0 C554.2,137.5 523.0,140.0 496.2,138.5 Z" fill="url(#dome)"/></g>
<path d="M363.2,81.0 C361.0,85.0 354.5,96.3 350.0,105.0 C345.5,113.7 341.0,121.8 336.2,133.0 C331.4,144.2 322.9,165.2 321.0,172.0 C319.1,178.8 322.0,180.3 325.0,174.0 C328.0,167.7 334.7,145.3 339.2,134.0 C343.7,122.7 348.0,114.8 352.2,106.0 C356.4,97.2 362.5,85.5 364.6,81.4" fill="#4c3f4e"/>
<path d="M187.5,82.5 L168.5,120.0" stroke="#6b6473" stroke-width="1.6" stroke-linecap="round"/>
<path d="M286.0,71.7 L267.5,109.0" stroke="#6b6473" stroke-width="1.6" stroke-linecap="round"/>
<path d="M425.0,82.5 L406.5,120.0" stroke="#6b6473" stroke-width="1.6" stroke-linecap="round"/>
<path d="M335,130 C334.5,119 324,113.5 307,118.8" stroke="#f27c5e" stroke-width="2" fill="none" stroke-linecap="round"/>
<path d="M301,119.8 L307.8,115.2 L307.8,122.6 Z" fill="#f27c5e"/>
<path d="M346,130 C348,119 365,112.5 384,119" stroke="#f27c5e" stroke-width="2" fill="none" stroke-linecap="round"/>
<path d="M389.5,120.5 L382.5,115.5 L382,123 Z" fill="#f27c5e"/>
<text x="191.7" y="43.7" font-family="Liberation Sans, sans-serif" font-size="24.0" font-weight="bold" fill="#111" text-anchor="start" textLength="200.0" lengthAdjust="spacingAndGlyphs">Struktura kože</text>
<text x="353.8" y="75.2" font-family="Liberation Sans, sans-serif" font-size="9.4" font-weight="normal" fill="#2a2a2a" stroke="#2a2a2a" stroke-width="0.1" text-anchor="start" textLength="26.6" lengthAdjust="spacingAndGlyphs">Dlaka</text>
<text x="261.2" y="124.2" font-family="Liberation Sans, sans-serif" font-size="11.0" font-weight="normal" fill="#9a9a9a" text-anchor="start" textLength="35.0" lengthAdjust="spacingAndGlyphs">Sebum</text>
<text x="509.6" y="240.0" font-family="Liberation Sans, sans-serif" font-size="9.2" font-weight="normal" fill="#2a2a2a" stroke="#2a2a2a" stroke-width="0.1" text-anchor="start" textLength="59.9" lengthAdjust="spacingAndGlyphs">Lojna žlezda</text>
<text x="509.4" y="295.1" font-family="Liberation Sans, sans-serif" font-size="9.2" font-weight="normal" fill="#2a2a2a" stroke="#2a2a2a" stroke-width="0.1" text-anchor="start" textLength="59.1" lengthAdjust="spacingAndGlyphs">Hijaluronska</text>
<text x="509.4" y="306.3" font-family="Liberation Sans, sans-serif" font-size="9.2" font-weight="normal" fill="#2a2a2a" stroke="#2a2a2a" stroke-width="0.1" text-anchor="start" textLength="35.5" lengthAdjust="spacingAndGlyphs">kiselina</text>
<text x="509.4" y="327.8" font-family="Liberation Sans, sans-serif" font-size="9.2" font-weight="normal" fill="#2a2a2a" stroke="#2a2a2a" stroke-width="0.1" text-anchor="start" textLength="39.0" lengthAdjust="spacingAndGlyphs">Kolagen</text>
<text x="509.4" y="350.6" font-family="Liberation Sans, sans-serif" font-size="9.2" font-weight="normal" fill="#2a2a2a" stroke="#2a2a2a" stroke-width="0.1" text-anchor="start" textLength="33.3" lengthAdjust="spacingAndGlyphs">Elastin</text>
<text x="235.5" y="476.8" font-family="Liberation Sans, sans-serif" font-size="9.2" font-weight="normal" fill="#2a2a2a" stroke="#2a2a2a" stroke-width="0.1" text-anchor="start" textLength="66.8" lengthAdjust="spacingAndGlyphs">Znojna žlezda</text>
<text x="48.0" y="249.0" font-family="Liberation Sans, sans-serif" font-size="9.2" font-weight="normal" fill="#2a2a2a" stroke="#2a2a2a" stroke-width="0.1" text-anchor="start" textLength="36.5" lengthAdjust="spacingAndGlyphs">Kapilari</text>
<text x="41.0" y="175.3" font-family="Liberation Sans, sans-serif" font-size="10.0" font-weight="bold" fill="#222" text-anchor="start" textLength="53.8" lengthAdjust="spacingAndGlyphs">Epidermis</text>
<text x="56.9" y="298.5" font-family="Liberation Sans, sans-serif" font-size="10.0" font-weight="bold" fill="#222" text-anchor="start" textLength="38.0" lengthAdjust="spacingAndGlyphs">Dermis</text>
<text x="33.9" y="403.9" font-family="Liberation Sans, sans-serif" font-size="10.0" font-weight="bold" fill="#222" text-anchor="start" textLength="61.0" lengthAdjust="spacingAndGlyphs">Hipodermis</text>
<text x="29.5" y="387.1" font-family="Liberation Sans, sans-serif" font-size="9.2" font-weight="normal" fill="#2a2a2a" stroke="#2a2a2a" stroke-width="0.1" text-anchor="start" textLength="59.6" lengthAdjust="spacingAndGlyphs">Krvni sudovi</text>
<text x="46.2" y="419.0" font-family="Liberation Sans, sans-serif" font-size="9.2" font-weight="normal" fill="#2a2a2a" stroke="#2a2a2a" stroke-width="0.1" text-anchor="start" textLength="44.3" lengthAdjust="spacingAndGlyphs">Potkožno</text>
<text x="32.5" y="429.4" font-family="Liberation Sans, sans-serif" font-size="9.2" font-weight="normal" fill="#2a2a2a" stroke="#2a2a2a" stroke-width="0.1" text-anchor="start" textLength="58.5" lengthAdjust="spacingAndGlyphs">masno tkivo</text>
<text x="64.0" y="446.9" font-family="Liberation Sans, sans-serif" font-size="9.2" font-weight="normal" fill="#2a2a2a" stroke="#2a2a2a" stroke-width="0.1" text-anchor="start" textLength="26.1" lengthAdjust="spacingAndGlyphs">Mišići</text>
<polyline points="331.0,278.7 359.4,237.6 507.0,237.6" fill="none" stroke="#6e6e6e" stroke-width="1.0"/>
<circle cx="331.0" cy="278.7" r="2.1" fill="#3d4146"/>
<polyline points="419.5,297.8 507.0,297.8" fill="none" stroke="#6e6e6e" stroke-width="1.0"/>
<circle cx="419.5" cy="297.8" r="2.1" fill="#3d4146"/>
<polyline points="399.0,324.0 507.0,324.0" fill="none" stroke="#6e6e6e" stroke-width="1.0"/>
<circle cx="399.0" cy="324.0" r="2.1" fill="#3d4146"/>
<polyline points="417.8,346.3 507.0,346.3" fill="none" stroke="#6e6e6e" stroke-width="1.0"/>
<circle cx="417.8" cy="346.3" r="2.1" fill="#3d4146"/>
<polyline points="202.5,318.7 202.5,474.0 232.3,474.0" fill="none" stroke="#6e6e6e" stroke-width="1.0"/>
<polyline points="86.0,244.5 127.2,244.5" fill="none" stroke="#6e6e6e" stroke-width="1.0"/>
<circle cx="127.2" cy="244.5" r="2.1" fill="#3d4146"/>
<path d="M103.5,133.5 H98.5 V219.0 H103.5" fill="none" stroke="#6e6e6e" stroke-width="1"/>
<path d="M103.5,223.0 H98.5 V369.5 H103.5" fill="none" stroke="#6e6e6e" stroke-width="1"/>
<path d="M103.5,373.0 H98.5 V430.5 H103.5" fill="none" stroke="#6e6e6e" stroke-width="1"/>
<path d="M101.2,377.0 H105.2 M103.2,377.0 V391.0 M101.2,391.0 H105.2 M92.0,384.0 H103.2" fill="none" stroke="#6e6e6e" stroke-width="1"/>
<path d="M101.2,413.0 H105.2 M103.2,413.0 V427.0 M101.2,427.0 H105.2 M92.0,420.0 H103.2" fill="none" stroke="#6e6e6e" stroke-width="1"/>
<path d="M101.2,436.6 H105.2 M103.2,436.6 V451.5 M101.2,451.5 H105.2 M92.0,443.6 H103.2" fill="none" stroke="#6e6e6e" stroke-width="1"/></svg>
</body></html>
